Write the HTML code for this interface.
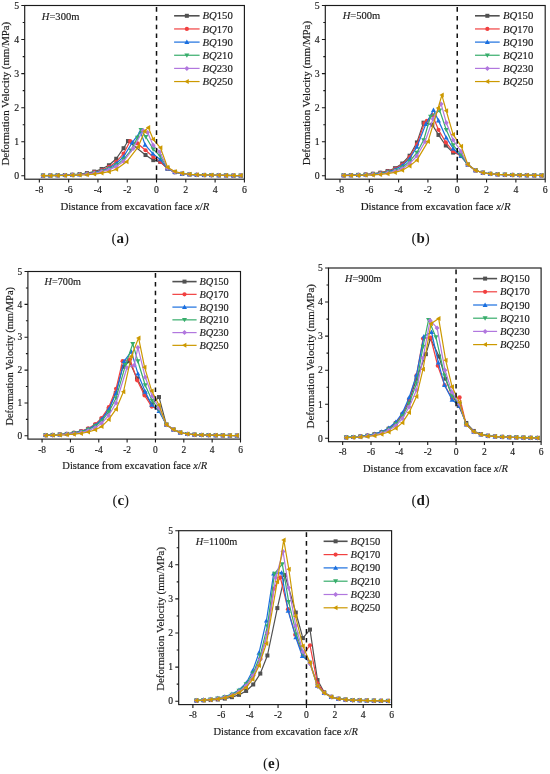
<!DOCTYPE html>
<html><head><meta charset="utf-8"><title>Deformation velocity</title>
<style>
html,body{margin:0;padding:0;background:#fff;}
svg{display:block;font-family:'Liberation Serif','Times New Roman',serif;fill:#1a1a1a;}
svg text{fill:#1a1a1a;stroke:#1a1a1a;stroke-width:0.16px;}
</style></head><body>
<svg width="550" height="774" viewBox="0 0 550 774">
<defs><clipPath id="clipa"><rect x="24.70" y="5.50" width="219.70" height="173.70"/></clipPath><clipPath id="clipb"><rect x="325.30" y="5.50" width="219.90" height="173.70"/></clipPath><clipPath id="clipc"><rect x="27.90" y="271.50" width="212.60" height="167.60"/></clipPath><clipPath id="clipd"><rect x="328.50" y="268.00" width="212.60" height="173.70"/></clipPath><clipPath id="clipe"><rect x="178.70" y="530.70" width="212.90" height="173.90"/></clipPath></defs>
<rect width="550" height="774" fill="#fff"/>
<g clip-path="url(#clipa)">
<path d="M43.01 175.55 L50.33 175.44 L57.66 175.28 L64.98 175.04 L72.30 174.67 L79.62 174.08 L86.95 173.12 L94.27 171.57 L101.60 168.98 L108.92 165.24 L116.24 158.76 L123.57 148.21 L127.96 141.05 L145.53 155.02 L153.30 160.13 L160.18 161.83 L167.50 168.64 L174.83 172.22 L182.15 173.76 L189.47 174.49 L196.80 174.87 L204.12 175.07 L211.45 175.23 L218.77 175.35 L226.09 175.45 L233.42 175.53 L240.74 175.59" fill="none" stroke="#515151" stroke-width="1.2" stroke-linejoin="round"/>
<rect x="41.01" y="173.55" width="4.00" height="4.00" fill="#515151"/>
<rect x="48.33" y="173.44" width="4.00" height="4.00" fill="#515151"/>
<rect x="55.66" y="173.28" width="4.00" height="4.00" fill="#515151"/>
<rect x="62.98" y="173.04" width="4.00" height="4.00" fill="#515151"/>
<rect x="70.30" y="172.67" width="4.00" height="4.00" fill="#515151"/>
<rect x="77.62" y="172.08" width="4.00" height="4.00" fill="#515151"/>
<rect x="84.95" y="171.12" width="4.00" height="4.00" fill="#515151"/>
<rect x="92.27" y="169.57" width="4.00" height="4.00" fill="#515151"/>
<rect x="99.60" y="166.98" width="4.00" height="4.00" fill="#515151"/>
<rect x="106.92" y="163.24" width="4.00" height="4.00" fill="#515151"/>
<rect x="114.24" y="156.76" width="4.00" height="4.00" fill="#515151"/>
<rect x="121.57" y="146.21" width="4.00" height="4.00" fill="#515151"/>
<rect x="125.96" y="139.05" width="4.00" height="4.00" fill="#515151"/>
<rect x="143.53" y="153.02" width="4.00" height="4.00" fill="#515151"/>
<rect x="151.30" y="158.13" width="4.00" height="4.00" fill="#515151"/>
<rect x="158.18" y="159.83" width="4.00" height="4.00" fill="#515151"/>
<rect x="165.50" y="166.64" width="4.00" height="4.00" fill="#515151"/>
<rect x="172.83" y="170.22" width="4.00" height="4.00" fill="#515151"/>
<rect x="180.15" y="171.76" width="4.00" height="4.00" fill="#515151"/>
<rect x="187.47" y="172.49" width="4.00" height="4.00" fill="#515151"/>
<rect x="194.80" y="172.87" width="4.00" height="4.00" fill="#515151"/>
<rect x="202.12" y="173.07" width="4.00" height="4.00" fill="#515151"/>
<rect x="209.45" y="173.23" width="4.00" height="4.00" fill="#515151"/>
<rect x="216.77" y="173.35" width="4.00" height="4.00" fill="#515151"/>
<rect x="224.09" y="173.45" width="4.00" height="4.00" fill="#515151"/>
<rect x="231.42" y="173.53" width="4.00" height="4.00" fill="#515151"/>
<rect x="238.74" y="173.59" width="4.00" height="4.00" fill="#515151"/>
<path d="M43.01 175.58 L50.33 175.49 L57.66 175.36 L64.98 175.15 L72.30 174.84 L79.62 174.33 L86.95 173.53 L94.27 172.20 L101.60 170.00 L108.92 166.94 L116.24 161.83 L123.57 153.66 L130.16 141.05 L137.48 143.44 L145.53 150.25 L153.30 157.06 L160.18 161.83 L167.50 168.64 L174.83 172.22 L182.15 173.76 L189.47 174.49 L196.80 174.87 L204.12 175.07 L211.45 175.23 L218.77 175.35 L226.09 175.45 L233.42 175.53 L240.74 175.59" fill="none" stroke="#F14040" stroke-width="1.2" stroke-linejoin="round"/>
<circle cx="43.01" cy="175.58" r="2.10" fill="#F14040"/>
<circle cx="50.33" cy="175.49" r="2.10" fill="#F14040"/>
<circle cx="57.66" cy="175.36" r="2.10" fill="#F14040"/>
<circle cx="64.98" cy="175.15" r="2.10" fill="#F14040"/>
<circle cx="72.30" cy="174.84" r="2.10" fill="#F14040"/>
<circle cx="79.62" cy="174.33" r="2.10" fill="#F14040"/>
<circle cx="86.95" cy="173.53" r="2.10" fill="#F14040"/>
<circle cx="94.27" cy="172.20" r="2.10" fill="#F14040"/>
<circle cx="101.60" cy="170.00" r="2.10" fill="#F14040"/>
<circle cx="108.92" cy="166.94" r="2.10" fill="#F14040"/>
<circle cx="116.24" cy="161.83" r="2.10" fill="#F14040"/>
<circle cx="123.57" cy="153.66" r="2.10" fill="#F14040"/>
<circle cx="130.16" cy="141.05" r="2.10" fill="#F14040"/>
<circle cx="137.48" cy="143.44" r="2.10" fill="#F14040"/>
<circle cx="145.53" cy="150.25" r="2.10" fill="#F14040"/>
<circle cx="153.30" cy="157.06" r="2.10" fill="#F14040"/>
<circle cx="160.18" cy="161.83" r="2.10" fill="#F14040"/>
<circle cx="167.50" cy="168.64" r="2.10" fill="#F14040"/>
<circle cx="174.83" cy="172.22" r="2.10" fill="#F14040"/>
<circle cx="182.15" cy="173.76" r="2.10" fill="#F14040"/>
<circle cx="189.47" cy="174.49" r="2.10" fill="#F14040"/>
<circle cx="196.80" cy="174.87" r="2.10" fill="#F14040"/>
<circle cx="204.12" cy="175.07" r="2.10" fill="#F14040"/>
<circle cx="211.45" cy="175.23" r="2.10" fill="#F14040"/>
<circle cx="218.77" cy="175.35" r="2.10" fill="#F14040"/>
<circle cx="226.09" cy="175.45" r="2.10" fill="#F14040"/>
<circle cx="233.42" cy="175.53" r="2.10" fill="#F14040"/>
<circle cx="240.74" cy="175.59" r="2.10" fill="#F14040"/>
<path d="M43.01 175.61 L50.33 175.53 L57.66 175.41 L64.98 175.23 L72.30 174.95 L79.62 174.50 L86.95 173.79 L94.27 172.63 L101.60 170.69 L108.92 167.96 L116.24 163.53 L123.57 156.72 L132.35 142.42 L140.41 131.52 L145.10 144.80 L152.86 153.66 L160.18 159.45 L167.50 168.64 L174.83 172.22 L182.15 173.76 L189.47 174.49 L196.80 174.87 L204.12 175.07 L211.45 175.23 L218.77 175.35 L226.09 175.45 L233.42 175.53 L240.74 175.59" fill="none" stroke="#1A6FDF" stroke-width="1.2" stroke-linejoin="round"/>
<path d="M43.01 173.11L45.51 177.48L40.51 177.48Z" fill="#1A6FDF"/>
<path d="M50.33 173.03L52.83 177.40L47.83 177.40Z" fill="#1A6FDF"/>
<path d="M57.66 172.91L60.16 177.28L55.16 177.28Z" fill="#1A6FDF"/>
<path d="M64.98 172.73L67.48 177.10L62.48 177.10Z" fill="#1A6FDF"/>
<path d="M72.30 172.45L74.80 176.82L69.80 176.82Z" fill="#1A6FDF"/>
<path d="M79.62 172.00L82.12 176.38L77.12 176.38Z" fill="#1A6FDF"/>
<path d="M86.95 171.29L89.45 175.67L84.45 175.67Z" fill="#1A6FDF"/>
<path d="M94.27 170.13L96.77 174.50L91.77 174.50Z" fill="#1A6FDF"/>
<path d="M101.60 168.19L104.10 172.56L99.10 172.56Z" fill="#1A6FDF"/>
<path d="M108.92 165.46L111.42 169.84L106.42 169.84Z" fill="#1A6FDF"/>
<path d="M116.24 161.03L118.74 165.41L113.74 165.41Z" fill="#1A6FDF"/>
<path d="M123.57 154.22L126.07 158.60L121.07 158.60Z" fill="#1A6FDF"/>
<path d="M132.35 139.92L134.85 144.29L129.85 144.29Z" fill="#1A6FDF"/>
<path d="M140.41 129.02L142.91 133.39L137.91 133.39Z" fill="#1A6FDF"/>
<path d="M145.10 142.30L147.60 146.68L142.60 146.68Z" fill="#1A6FDF"/>
<path d="M152.86 151.16L155.36 155.53L150.36 155.53Z" fill="#1A6FDF"/>
<path d="M160.18 156.95L162.68 161.32L157.68 161.32Z" fill="#1A6FDF"/>
<path d="M167.50 166.14L170.00 170.52L165.00 170.52Z" fill="#1A6FDF"/>
<path d="M174.83 169.72L177.33 174.09L172.33 174.09Z" fill="#1A6FDF"/>
<path d="M182.15 171.26L184.65 175.63L179.65 175.63Z" fill="#1A6FDF"/>
<path d="M189.47 171.99L191.97 176.36L186.97 176.36Z" fill="#1A6FDF"/>
<path d="M196.80 172.37L199.30 176.74L194.30 176.74Z" fill="#1A6FDF"/>
<path d="M204.12 172.57L206.62 176.95L201.62 176.95Z" fill="#1A6FDF"/>
<path d="M211.45 172.73L213.95 177.11L208.95 177.11Z" fill="#1A6FDF"/>
<path d="M218.77 172.85L221.27 177.23L216.27 177.23Z" fill="#1A6FDF"/>
<path d="M226.09 172.95L228.59 177.33L223.59 177.33Z" fill="#1A6FDF"/>
<path d="M233.42 173.03L235.92 177.40L230.92 177.40Z" fill="#1A6FDF"/>
<path d="M240.74 173.09L243.24 177.46L238.24 177.46Z" fill="#1A6FDF"/>
<path d="M43.01 175.63 L50.33 175.56 L57.66 175.46 L64.98 175.30 L72.30 175.06 L79.62 174.68 L86.95 174.06 L94.27 173.05 L101.60 171.37 L108.92 168.98 L116.24 165.24 L123.57 159.45 L130.89 150.25 L137.48 137.65 L140.99 129.81 L145.83 136.97 L153.15 149.23 L160.18 156.04 L167.50 168.30 L174.83 172.05 L182.15 173.66 L189.47 174.43 L196.80 174.82 L204.12 175.04 L211.45 175.20 L218.77 175.33 L226.09 175.43 L233.42 175.51 L240.74 175.58" fill="none" stroke="#37AD6B" stroke-width="1.2" stroke-linejoin="round"/>
<path d="M43.01 178.13L45.51 173.76L40.51 173.76Z" fill="#37AD6B"/>
<path d="M50.33 178.06L52.83 173.69L47.83 173.69Z" fill="#37AD6B"/>
<path d="M57.66 177.96L60.16 173.59L55.16 173.59Z" fill="#37AD6B"/>
<path d="M64.98 177.80L67.48 173.43L62.48 173.43Z" fill="#37AD6B"/>
<path d="M72.30 177.56L74.80 173.19L69.80 173.19Z" fill="#37AD6B"/>
<path d="M79.62 177.18L82.12 172.80L77.12 172.80Z" fill="#37AD6B"/>
<path d="M86.95 176.56L89.45 172.18L84.45 172.18Z" fill="#37AD6B"/>
<path d="M94.27 175.55L96.77 171.17L91.77 171.17Z" fill="#37AD6B"/>
<path d="M101.60 173.87L104.10 169.49L99.10 169.49Z" fill="#37AD6B"/>
<path d="M108.92 171.48L111.42 167.11L106.42 167.11Z" fill="#37AD6B"/>
<path d="M116.24 167.74L118.74 163.36L113.74 163.36Z" fill="#37AD6B"/>
<path d="M123.57 161.95L126.07 157.57L121.07 157.57Z" fill="#37AD6B"/>
<path d="M130.89 152.75L133.39 148.38L128.39 148.38Z" fill="#37AD6B"/>
<path d="M137.48 140.15L139.98 135.77L134.98 135.77Z" fill="#37AD6B"/>
<path d="M140.99 132.31L143.49 127.94L138.49 127.94Z" fill="#37AD6B"/>
<path d="M145.83 139.47L148.33 135.09L143.33 135.09Z" fill="#37AD6B"/>
<path d="M153.15 151.73L155.65 147.35L150.65 147.35Z" fill="#37AD6B"/>
<path d="M160.18 158.54L162.68 154.16L157.68 154.16Z" fill="#37AD6B"/>
<path d="M167.50 170.80L170.00 166.43L165.00 166.43Z" fill="#37AD6B"/>
<path d="M174.83 174.55L177.33 170.17L172.33 170.17Z" fill="#37AD6B"/>
<path d="M182.15 176.16L184.65 171.78L179.65 171.78Z" fill="#37AD6B"/>
<path d="M189.47 176.93L191.97 172.55L186.97 172.55Z" fill="#37AD6B"/>
<path d="M196.80 177.32L199.30 172.95L194.30 172.95Z" fill="#37AD6B"/>
<path d="M204.12 177.54L206.62 173.16L201.62 173.16Z" fill="#37AD6B"/>
<path d="M211.45 177.70L213.95 173.33L208.95 173.33Z" fill="#37AD6B"/>
<path d="M218.77 177.83L221.27 173.46L216.27 173.46Z" fill="#37AD6B"/>
<path d="M226.09 177.93L228.59 173.56L223.59 173.56Z" fill="#37AD6B"/>
<path d="M233.42 178.01L235.92 173.64L230.92 173.64Z" fill="#37AD6B"/>
<path d="M240.74 178.08L243.24 173.70L238.24 173.70Z" fill="#37AD6B"/>
<path d="M43.01 175.65 L50.33 175.58 L57.66 175.49 L64.98 175.34 L72.30 175.12 L79.62 174.76 L86.95 174.19 L94.27 173.26 L101.60 171.71 L108.92 169.66 L116.24 166.60 L123.57 161.49 L133.09 148.55 L143.05 130.50 L147.59 132.54 L153.15 145.14 L159.74 151.95 L167.50 167.96 L174.83 171.88 L182.15 173.56 L189.47 174.37 L196.80 174.78 L204.12 175.00 L211.45 175.18 L218.77 175.31 L226.09 175.42 L233.42 175.50 L240.74 175.57" fill="none" stroke="#B177DE" stroke-width="1.2" stroke-linejoin="round"/>
<path d="M43.01 173.15L45.51 175.65L43.01 178.15L40.51 175.65Z" fill="#B177DE"/>
<path d="M50.33 173.08L52.83 175.58L50.33 178.08L47.83 175.58Z" fill="#B177DE"/>
<path d="M57.66 172.99L60.16 175.49L57.66 177.99L55.16 175.49Z" fill="#B177DE"/>
<path d="M64.98 172.84L67.48 175.34L64.98 177.84L62.48 175.34Z" fill="#B177DE"/>
<path d="M72.30 172.62L74.80 175.12L72.30 177.62L69.80 175.12Z" fill="#B177DE"/>
<path d="M79.62 172.26L82.12 174.76L79.62 177.26L77.12 174.76Z" fill="#B177DE"/>
<path d="M86.95 171.69L89.45 174.19L86.95 176.69L84.45 174.19Z" fill="#B177DE"/>
<path d="M94.27 170.76L96.77 173.26L94.27 175.76L91.77 173.26Z" fill="#B177DE"/>
<path d="M101.60 169.21L104.10 171.71L101.60 174.21L99.10 171.71Z" fill="#B177DE"/>
<path d="M108.92 167.16L111.42 169.66L108.92 172.16L106.42 169.66Z" fill="#B177DE"/>
<path d="M116.24 164.10L118.74 166.60L116.24 169.10L113.74 166.60Z" fill="#B177DE"/>
<path d="M123.57 158.99L126.07 161.49L123.57 163.99L121.07 161.49Z" fill="#B177DE"/>
<path d="M133.09 146.05L135.59 148.55L133.09 151.05L130.59 148.55Z" fill="#B177DE"/>
<path d="M143.05 128.00L145.55 130.50L143.05 133.00L140.55 130.50Z" fill="#B177DE"/>
<path d="M147.59 130.04L150.09 132.54L147.59 135.04L145.09 132.54Z" fill="#B177DE"/>
<path d="M153.15 142.64L155.65 145.14L153.15 147.64L150.65 145.14Z" fill="#B177DE"/>
<path d="M159.74 149.45L162.24 151.95L159.74 154.45L157.24 151.95Z" fill="#B177DE"/>
<path d="M167.50 165.46L170.00 167.96L167.50 170.46L165.00 167.96Z" fill="#B177DE"/>
<path d="M174.83 169.38L177.33 171.88L174.83 174.38L172.33 171.88Z" fill="#B177DE"/>
<path d="M182.15 171.06L184.65 173.56L182.15 176.06L179.65 173.56Z" fill="#B177DE"/>
<path d="M189.47 171.87L191.97 174.37L189.47 176.87L186.97 174.37Z" fill="#B177DE"/>
<path d="M196.80 172.28L199.30 174.78L196.80 177.28L194.30 174.78Z" fill="#B177DE"/>
<path d="M204.12 172.50L206.62 175.00L204.12 177.50L201.62 175.00Z" fill="#B177DE"/>
<path d="M211.45 172.68L213.95 175.18L211.45 177.68L208.95 175.18Z" fill="#B177DE"/>
<path d="M218.77 172.81L221.27 175.31L218.77 177.81L216.27 175.31Z" fill="#B177DE"/>
<path d="M226.09 172.92L228.59 175.42L226.09 177.92L223.59 175.42Z" fill="#B177DE"/>
<path d="M233.42 173.00L235.92 175.50L233.42 178.00L230.92 175.50Z" fill="#B177DE"/>
<path d="M240.74 173.07L243.24 175.57L240.74 178.07L238.24 175.57Z" fill="#B177DE"/>
<path d="M43.01 175.69 L50.33 175.65 L57.66 175.59 L64.98 175.49 L72.30 175.34 L79.62 175.11 L86.95 174.73 L94.27 174.10 L101.60 173.07 L108.92 171.71 L116.24 169.32 L126.64 161.83 L138.21 146.84 L144.66 131.18 L148.32 127.43 L153.15 139.35 L160.47 147.87 L167.50 167.28 L174.83 171.54 L182.15 173.37 L189.47 174.24 L196.80 174.69 L204.12 174.93 L211.45 175.12 L218.77 175.27 L226.09 175.39 L233.42 175.48 L240.74 175.55" fill="none" stroke="#CC9900" stroke-width="1.2" stroke-linejoin="round"/>
<path d="M40.51 175.69L44.88 173.19L44.88 178.19Z" fill="#CC9900"/>
<path d="M47.83 175.65L52.21 173.15L52.21 178.15Z" fill="#CC9900"/>
<path d="M55.16 175.59L59.53 173.09L59.53 178.09Z" fill="#CC9900"/>
<path d="M62.48 175.49L66.85 172.99L66.85 177.99Z" fill="#CC9900"/>
<path d="M69.80 175.34L74.18 172.84L74.18 177.84Z" fill="#CC9900"/>
<path d="M77.12 175.11L81.50 172.61L81.50 177.61Z" fill="#CC9900"/>
<path d="M84.45 174.73L88.82 172.23L88.82 177.23Z" fill="#CC9900"/>
<path d="M91.77 174.10L96.15 171.60L96.15 176.60Z" fill="#CC9900"/>
<path d="M99.10 173.07L103.47 170.57L103.47 175.57Z" fill="#CC9900"/>
<path d="M106.42 171.71L110.79 169.21L110.79 174.21Z" fill="#CC9900"/>
<path d="M113.74 169.32L118.12 166.82L118.12 171.82Z" fill="#CC9900"/>
<path d="M124.14 161.83L128.52 159.33L128.52 164.33Z" fill="#CC9900"/>
<path d="M135.71 146.84L140.09 144.34L140.09 149.34Z" fill="#CC9900"/>
<path d="M142.16 131.18L146.53 128.68L146.53 133.68Z" fill="#CC9900"/>
<path d="M145.82 127.43L150.19 124.93L150.19 129.93Z" fill="#CC9900"/>
<path d="M150.65 139.35L155.03 136.85L155.03 141.85Z" fill="#CC9900"/>
<path d="M157.97 147.87L162.35 145.37L162.35 150.37Z" fill="#CC9900"/>
<path d="M165.00 167.28L169.38 164.78L169.38 169.78Z" fill="#CC9900"/>
<path d="M172.33 171.54L176.70 169.04L176.70 174.04Z" fill="#CC9900"/>
<path d="M179.65 173.37L184.03 170.87L184.03 175.87Z" fill="#CC9900"/>
<path d="M186.97 174.24L191.35 171.74L191.35 176.74Z" fill="#CC9900"/>
<path d="M194.30 174.69L198.67 172.19L198.67 177.19Z" fill="#CC9900"/>
<path d="M201.62 174.93L206.00 172.43L206.00 177.43Z" fill="#CC9900"/>
<path d="M208.95 175.12L213.32 172.62L213.32 177.62Z" fill="#CC9900"/>
<path d="M216.27 175.27L220.64 172.77L220.64 177.77Z" fill="#CC9900"/>
<path d="M223.59 175.39L227.97 172.89L227.97 177.89Z" fill="#CC9900"/>
<path d="M230.92 175.48L235.29 172.98L235.29 177.98Z" fill="#CC9900"/>
<path d="M238.24 175.55L242.61 173.05L242.61 178.05Z" fill="#CC9900"/>
</g>
<line x1="156.52" y1="7.10" x2="156.52" y2="179.20" stroke="#111" stroke-width="1.5" stroke-dasharray="4.6 4.2"/>
<rect x="24.70" y="5.50" width="219.70" height="173.70" fill="none" stroke="#1a1a1a" stroke-width="1.15"/>
<text x="19.10" y="179.12" text-anchor="end" font-size="9.79">0</text>
<text x="19.10" y="145.06" text-anchor="end" font-size="9.79">1</text>
<text x="19.10" y="111.01" text-anchor="end" font-size="9.79">2</text>
<text x="19.10" y="76.95" text-anchor="end" font-size="9.79">3</text>
<text x="19.10" y="42.89" text-anchor="end" font-size="9.79">4</text>
<text x="19.10" y="8.83" text-anchor="end" font-size="9.79">5</text>
<text x="39.35" y="193.20" text-anchor="middle" font-size="9.79">-8</text>
<text x="68.64" y="193.20" text-anchor="middle" font-size="9.79">-6</text>
<text x="97.93" y="193.20" text-anchor="middle" font-size="9.79">-4</text>
<text x="127.23" y="193.20" text-anchor="middle" font-size="9.79">-2</text>
<text x="156.52" y="193.20" text-anchor="middle" font-size="9.79">0</text>
<text x="185.81" y="193.20" text-anchor="middle" font-size="9.79">2</text>
<text x="215.11" y="193.20" text-anchor="middle" font-size="9.79">4</text>
<text x="244.40" y="193.20" text-anchor="middle" font-size="9.79">6</text>
<path d="M24.70 175.79h-3.4 M24.70 141.74h-3.4 M24.70 107.68h-3.4 M24.70 73.62h-3.4 M24.70 39.56h-3.4 M24.70 5.50h-3.4 M24.70 158.76h-2 M24.70 124.71h-2 M24.70 90.65h-2 M24.70 56.59h-2 M24.70 22.53h-2 M39.35 179.20v3.4 M68.64 179.20v3.4 M97.93 179.20v3.4 M127.23 179.20v3.4 M156.52 179.20v3.4 M185.81 179.20v3.4 M215.11 179.20v3.4 M244.40 179.20v3.4" stroke="#1a1a1a" stroke-width="1.1" fill="none"/>
<text x="60.50" y="209.90" font-size="10.70" textLength="149.0" lengthAdjust="spacingAndGlyphs">Distance from excavation face <tspan font-style="italic">x</tspan>/<tspan font-style="italic">R</tspan></text>
<text transform="translate(8.80,165.60) rotate(-90)" font-size="10.70" textLength="143.8" lengthAdjust="spacingAndGlyphs">Deformation Velocity (mm/MPa)</text>
<text x="41.80" y="19.70" font-size="10.70" textLength="37.6" lengthAdjust="spacingAndGlyphs"><tspan font-style="italic">H</tspan>=300m</text>
<line x1="174.10" y1="15.80" x2="199.60" y2="15.80" stroke="#515151" stroke-width="1.6"/>
<rect x="184.85" y="13.80" width="4.00" height="4.00" fill="#515151"/>
<text x="202.50" y="19.44" font-size="10.70"><tspan font-style="italic">BQ</tspan>150</text>
<line x1="174.10" y1="28.95" x2="199.60" y2="28.95" stroke="#F14040" stroke-width="1.2"/>
<circle cx="186.85" cy="28.95" r="2.10" fill="#F14040"/>
<text x="202.50" y="32.59" font-size="10.70"><tspan font-style="italic">BQ</tspan>170</text>
<line x1="174.10" y1="42.10" x2="199.60" y2="42.10" stroke="#1A6FDF" stroke-width="1.2"/>
<path d="M186.85 39.60L189.35 43.98L184.35 43.98Z" fill="#1A6FDF"/>
<text x="202.50" y="45.74" font-size="10.70"><tspan font-style="italic">BQ</tspan>190</text>
<line x1="174.10" y1="55.25" x2="199.60" y2="55.25" stroke="#37AD6B" stroke-width="1.2"/>
<path d="M186.85 57.75L189.35 53.38L184.35 53.38Z" fill="#37AD6B"/>
<text x="202.50" y="58.89" font-size="10.70"><tspan font-style="italic">BQ</tspan>210</text>
<line x1="174.10" y1="68.40" x2="199.60" y2="68.40" stroke="#B177DE" stroke-width="1.2"/>
<path d="M186.85 65.90L189.35 68.40L186.85 70.90L184.35 68.40Z" fill="#B177DE"/>
<text x="202.50" y="72.04" font-size="10.70"><tspan font-style="italic">BQ</tspan>230</text>
<line x1="174.10" y1="81.55" x2="199.60" y2="81.55" stroke="#CC9900" stroke-width="1.2"/>
<path d="M184.35 81.55L188.72 79.05L188.72 84.05Z" fill="#CC9900"/>
<text x="202.50" y="85.19" font-size="10.70"><tspan font-style="italic">BQ</tspan>250</text>
<text x="111.50" y="242.50" font-size="15.00" style="stroke:none">(<tspan font-weight="bold">a</tspan>)</text>
<g clip-path="url(#clipb)">
<path d="M343.62 175.35 L350.96 175.16 L358.29 174.87 L365.62 174.44 L372.94 173.76 L380.28 172.70 L387.61 170.99 L394.94 168.19 L402.26 163.53 L409.60 155.70 L416.93 142.42 L423.52 122.66 L432.32 124.71 L438.48 134.92 L445.81 145.48 L453.14 152.63 L460.91 154.68 L467.80 164.55 L475.57 170.40 L482.90 172.72 L490.23 173.83 L497.56 174.40 L504.89 174.71 L512.22 174.94 L519.55 175.13 L526.88 175.28 L534.21 175.39 L541.54 175.48" fill="none" stroke="#515151" stroke-width="1.2" stroke-linejoin="round"/>
<rect x="341.62" y="173.35" width="4.00" height="4.00" fill="#515151"/>
<rect x="348.96" y="173.16" width="4.00" height="4.00" fill="#515151"/>
<rect x="356.29" y="172.87" width="4.00" height="4.00" fill="#515151"/>
<rect x="363.62" y="172.44" width="4.00" height="4.00" fill="#515151"/>
<rect x="370.94" y="171.76" width="4.00" height="4.00" fill="#515151"/>
<rect x="378.28" y="170.70" width="4.00" height="4.00" fill="#515151"/>
<rect x="385.61" y="168.99" width="4.00" height="4.00" fill="#515151"/>
<rect x="392.94" y="166.19" width="4.00" height="4.00" fill="#515151"/>
<rect x="400.26" y="161.53" width="4.00" height="4.00" fill="#515151"/>
<rect x="407.60" y="153.70" width="4.00" height="4.00" fill="#515151"/>
<rect x="414.93" y="140.42" width="4.00" height="4.00" fill="#515151"/>
<rect x="421.52" y="120.66" width="4.00" height="4.00" fill="#515151"/>
<rect x="430.32" y="122.71" width="4.00" height="4.00" fill="#515151"/>
<rect x="436.48" y="132.92" width="4.00" height="4.00" fill="#515151"/>
<rect x="443.81" y="143.48" width="4.00" height="4.00" fill="#515151"/>
<rect x="451.14" y="150.63" width="4.00" height="4.00" fill="#515151"/>
<rect x="458.91" y="152.68" width="4.00" height="4.00" fill="#515151"/>
<rect x="465.80" y="162.55" width="4.00" height="4.00" fill="#515151"/>
<rect x="473.57" y="168.40" width="4.00" height="4.00" fill="#515151"/>
<rect x="480.90" y="170.72" width="4.00" height="4.00" fill="#515151"/>
<rect x="488.23" y="171.83" width="4.00" height="4.00" fill="#515151"/>
<rect x="495.56" y="172.40" width="4.00" height="4.00" fill="#515151"/>
<rect x="502.89" y="172.71" width="4.00" height="4.00" fill="#515151"/>
<rect x="510.22" y="172.94" width="4.00" height="4.00" fill="#515151"/>
<rect x="517.55" y="173.13" width="4.00" height="4.00" fill="#515151"/>
<rect x="524.88" y="173.28" width="4.00" height="4.00" fill="#515151"/>
<rect x="532.21" y="173.39" width="4.00" height="4.00" fill="#515151"/>
<rect x="539.54" y="173.48" width="4.00" height="4.00" fill="#515151"/>
<path d="M343.62 175.38 L350.96 175.21 L358.29 174.95 L365.62 174.55 L372.94 173.93 L380.28 172.96 L387.61 171.39 L394.94 168.83 L402.26 164.55 L409.60 157.06 L416.93 144.46 L424.40 123.00 L426.89 120.96 L432.46 115.17 L438.48 129.81 L445.81 142.42 L453.14 151.27 L460.91 156.04 L467.80 164.55 L475.57 170.40 L482.90 172.72 L490.23 173.83 L497.56 174.40 L504.89 174.71 L512.22 174.94 L519.55 175.13 L526.88 175.28 L534.21 175.39 L541.54 175.48" fill="none" stroke="#F14040" stroke-width="1.2" stroke-linejoin="round"/>
<circle cx="343.62" cy="175.38" r="2.10" fill="#F14040"/>
<circle cx="350.96" cy="175.21" r="2.10" fill="#F14040"/>
<circle cx="358.29" cy="174.95" r="2.10" fill="#F14040"/>
<circle cx="365.62" cy="174.55" r="2.10" fill="#F14040"/>
<circle cx="372.94" cy="173.93" r="2.10" fill="#F14040"/>
<circle cx="380.28" cy="172.96" r="2.10" fill="#F14040"/>
<circle cx="387.61" cy="171.39" r="2.10" fill="#F14040"/>
<circle cx="394.94" cy="168.83" r="2.10" fill="#F14040"/>
<circle cx="402.26" cy="164.55" r="2.10" fill="#F14040"/>
<circle cx="409.60" cy="157.06" r="2.10" fill="#F14040"/>
<circle cx="416.93" cy="144.46" r="2.10" fill="#F14040"/>
<circle cx="424.40" cy="123.00" r="2.10" fill="#F14040"/>
<circle cx="426.89" cy="120.96" r="2.10" fill="#F14040"/>
<circle cx="432.46" cy="115.17" r="2.10" fill="#F14040"/>
<circle cx="438.48" cy="129.81" r="2.10" fill="#F14040"/>
<circle cx="445.81" cy="142.42" r="2.10" fill="#F14040"/>
<circle cx="453.14" cy="151.27" r="2.10" fill="#F14040"/>
<circle cx="460.91" cy="156.04" r="2.10" fill="#F14040"/>
<circle cx="467.80" cy="164.55" r="2.10" fill="#F14040"/>
<circle cx="475.57" cy="170.40" r="2.10" fill="#F14040"/>
<circle cx="482.90" cy="172.72" r="2.10" fill="#F14040"/>
<circle cx="490.23" cy="173.83" r="2.10" fill="#F14040"/>
<circle cx="497.56" cy="174.40" r="2.10" fill="#F14040"/>
<circle cx="504.89" cy="174.71" r="2.10" fill="#F14040"/>
<circle cx="512.22" cy="174.94" r="2.10" fill="#F14040"/>
<circle cx="519.55" cy="175.13" r="2.10" fill="#F14040"/>
<circle cx="526.88" cy="175.28" r="2.10" fill="#F14040"/>
<circle cx="534.21" cy="175.39" r="2.10" fill="#F14040"/>
<circle cx="541.54" cy="175.48" r="2.10" fill="#F14040"/>
<path d="M343.62 175.42 L350.96 175.26 L358.29 175.03 L365.62 174.66 L372.94 174.10 L380.28 173.22 L387.61 171.79 L394.94 169.46 L402.26 165.58 L409.60 158.76 L416.93 146.84 L425.87 124.02 L433.49 110.06 L438.48 120.62 L446.25 137.65 L453.14 148.55 L460.91 156.04 L467.80 164.55 L475.57 170.40 L482.90 172.72 L490.23 173.83 L497.56 174.40 L504.89 174.71 L512.22 174.94 L519.55 175.13 L526.88 175.28 L534.21 175.39 L541.54 175.48" fill="none" stroke="#1A6FDF" stroke-width="1.2" stroke-linejoin="round"/>
<path d="M343.62 172.92L346.12 177.30L341.12 177.30Z" fill="#1A6FDF"/>
<path d="M350.96 172.76L353.46 177.14L348.46 177.14Z" fill="#1A6FDF"/>
<path d="M358.29 172.53L360.79 176.90L355.79 176.90Z" fill="#1A6FDF"/>
<path d="M365.62 172.16L368.12 176.54L363.12 176.54Z" fill="#1A6FDF"/>
<path d="M372.94 171.60L375.44 175.98L370.44 175.98Z" fill="#1A6FDF"/>
<path d="M380.28 170.72L382.78 175.09L377.78 175.09Z" fill="#1A6FDF"/>
<path d="M387.61 169.29L390.11 173.67L385.11 173.67Z" fill="#1A6FDF"/>
<path d="M394.94 166.96L397.44 171.33L392.44 171.33Z" fill="#1A6FDF"/>
<path d="M402.26 163.08L404.76 167.45L399.76 167.45Z" fill="#1A6FDF"/>
<path d="M409.60 156.26L412.10 160.64L407.10 160.64Z" fill="#1A6FDF"/>
<path d="M416.93 144.34L419.43 148.72L414.43 148.72Z" fill="#1A6FDF"/>
<path d="M425.87 121.52L428.37 125.90L423.37 125.90Z" fill="#1A6FDF"/>
<path d="M433.49 107.56L435.99 111.94L430.99 111.94Z" fill="#1A6FDF"/>
<path d="M438.48 118.12L440.98 122.49L435.98 122.49Z" fill="#1A6FDF"/>
<path d="M446.25 135.15L448.75 139.52L443.75 139.52Z" fill="#1A6FDF"/>
<path d="M453.14 146.05L455.64 150.42L450.64 150.42Z" fill="#1A6FDF"/>
<path d="M460.91 153.54L463.41 157.91L458.41 157.91Z" fill="#1A6FDF"/>
<path d="M467.80 162.05L470.30 166.43L465.30 166.43Z" fill="#1A6FDF"/>
<path d="M475.57 167.90L478.07 172.28L473.07 172.28Z" fill="#1A6FDF"/>
<path d="M482.90 170.22L485.40 174.60L480.40 174.60Z" fill="#1A6FDF"/>
<path d="M490.23 171.33L492.73 175.70L487.73 175.70Z" fill="#1A6FDF"/>
<path d="M497.56 171.90L500.06 176.27L495.06 176.27Z" fill="#1A6FDF"/>
<path d="M504.89 172.21L507.39 176.58L502.39 176.58Z" fill="#1A6FDF"/>
<path d="M512.22 172.44L514.72 176.82L509.72 176.82Z" fill="#1A6FDF"/>
<path d="M519.55 172.63L522.05 177.01L517.05 177.01Z" fill="#1A6FDF"/>
<path d="M526.88 172.78L529.38 177.15L524.38 177.15Z" fill="#1A6FDF"/>
<path d="M534.21 172.89L536.71 177.27L531.71 177.27Z" fill="#1A6FDF"/>
<path d="M541.54 172.98L544.04 177.35L539.04 177.35Z" fill="#1A6FDF"/>
<path d="M343.62 175.48 L350.96 175.35 L358.29 175.15 L365.62 174.85 L372.94 174.38 L380.28 173.65 L387.61 172.46 L394.94 170.51 L402.26 167.28 L409.60 161.49 L416.93 152.63 L423.67 140.03 L430.56 116.53 L439.65 110.40 L446.25 129.81 L453.14 145.14 L460.91 154.68 L467.80 164.55 L475.57 170.40 L482.90 172.72 L490.23 173.83 L497.56 174.40 L504.89 174.71 L512.22 174.94 L519.55 175.13 L526.88 175.28 L534.21 175.39 L541.54 175.48" fill="none" stroke="#37AD6B" stroke-width="1.2" stroke-linejoin="round"/>
<path d="M343.62 177.98L346.12 173.61L341.12 173.61Z" fill="#37AD6B"/>
<path d="M350.96 177.85L353.46 173.48L348.46 173.48Z" fill="#37AD6B"/>
<path d="M358.29 177.65L360.79 173.28L355.79 173.28Z" fill="#37AD6B"/>
<path d="M365.62 177.35L368.12 172.98L363.12 172.98Z" fill="#37AD6B"/>
<path d="M372.94 176.88L375.44 172.51L370.44 172.51Z" fill="#37AD6B"/>
<path d="M380.28 176.15L382.78 171.77L377.78 171.77Z" fill="#37AD6B"/>
<path d="M387.61 174.96L390.11 170.58L385.11 170.58Z" fill="#37AD6B"/>
<path d="M394.94 173.01L397.44 168.64L392.44 168.64Z" fill="#37AD6B"/>
<path d="M402.26 169.78L404.76 165.40L399.76 165.40Z" fill="#37AD6B"/>
<path d="M409.60 163.99L412.10 159.61L407.10 159.61Z" fill="#37AD6B"/>
<path d="M416.93 155.13L419.43 150.76L414.43 150.76Z" fill="#37AD6B"/>
<path d="M423.67 142.53L426.17 138.16L421.17 138.16Z" fill="#37AD6B"/>
<path d="M430.56 119.03L433.06 114.66L428.06 114.66Z" fill="#37AD6B"/>
<path d="M439.65 112.90L442.15 108.53L437.15 108.53Z" fill="#37AD6B"/>
<path d="M446.25 132.31L448.75 127.94L443.75 127.94Z" fill="#37AD6B"/>
<path d="M453.14 147.64L455.64 143.27L450.64 143.27Z" fill="#37AD6B"/>
<path d="M460.91 157.18L463.41 152.80L458.41 152.80Z" fill="#37AD6B"/>
<path d="M467.80 167.05L470.30 162.68L465.30 162.68Z" fill="#37AD6B"/>
<path d="M475.57 172.90L478.07 168.53L473.07 168.53Z" fill="#37AD6B"/>
<path d="M482.90 175.22L485.40 170.85L480.40 170.85Z" fill="#37AD6B"/>
<path d="M490.23 176.33L492.73 171.95L487.73 171.95Z" fill="#37AD6B"/>
<path d="M497.56 176.90L500.06 172.52L495.06 172.52Z" fill="#37AD6B"/>
<path d="M504.89 177.21L507.39 172.83L502.39 172.83Z" fill="#37AD6B"/>
<path d="M512.22 177.44L514.72 173.07L509.72 173.07Z" fill="#37AD6B"/>
<path d="M519.55 177.63L522.05 173.26L517.05 173.26Z" fill="#37AD6B"/>
<path d="M526.88 177.78L529.38 173.40L524.38 173.40Z" fill="#37AD6B"/>
<path d="M534.21 177.89L536.71 173.52L531.71 173.52Z" fill="#37AD6B"/>
<path d="M541.54 177.98L544.04 173.60L539.04 173.60Z" fill="#37AD6B"/>
<path d="M343.62 175.53 L350.96 175.42 L358.29 175.26 L365.62 175.00 L372.94 174.61 L380.28 173.99 L387.61 172.99 L394.94 171.36 L402.26 168.64 L409.60 163.53 L416.93 156.04 L424.99 141.74 L433.05 118.92 L441.11 103.93 L446.25 122.66 L453.14 140.03 L460.91 151.27 L467.80 164.55 L475.57 170.40 L482.90 172.72 L490.23 173.83 L497.56 174.40 L504.89 174.71 L512.22 174.94 L519.55 175.13 L526.88 175.28 L534.21 175.39 L541.54 175.48" fill="none" stroke="#B177DE" stroke-width="1.2" stroke-linejoin="round"/>
<path d="M343.62 173.03L346.12 175.53L343.62 178.03L341.12 175.53Z" fill="#B177DE"/>
<path d="M350.96 172.92L353.46 175.42L350.96 177.92L348.46 175.42Z" fill="#B177DE"/>
<path d="M358.29 172.76L360.79 175.26L358.29 177.76L355.79 175.26Z" fill="#B177DE"/>
<path d="M365.62 172.50L368.12 175.00L365.62 177.50L363.12 175.00Z" fill="#B177DE"/>
<path d="M372.94 172.11L375.44 174.61L372.94 177.11L370.44 174.61Z" fill="#B177DE"/>
<path d="M380.28 171.49L382.78 173.99L380.28 176.49L377.78 173.99Z" fill="#B177DE"/>
<path d="M387.61 170.49L390.11 172.99L387.61 175.49L385.11 172.99Z" fill="#B177DE"/>
<path d="M394.94 168.86L397.44 171.36L394.94 173.86L392.44 171.36Z" fill="#B177DE"/>
<path d="M402.26 166.14L404.76 168.64L402.26 171.14L399.76 168.64Z" fill="#B177DE"/>
<path d="M409.60 161.03L412.10 163.53L409.60 166.03L407.10 163.53Z" fill="#B177DE"/>
<path d="M416.93 153.54L419.43 156.04L416.93 158.54L414.43 156.04Z" fill="#B177DE"/>
<path d="M424.99 139.24L427.49 141.74L424.99 144.24L422.49 141.74Z" fill="#B177DE"/>
<path d="M433.05 116.42L435.55 118.92L433.05 121.42L430.55 118.92Z" fill="#B177DE"/>
<path d="M441.11 101.43L443.61 103.93L441.11 106.43L438.61 103.93Z" fill="#B177DE"/>
<path d="M446.25 120.16L448.75 122.66L446.25 125.16L443.75 122.66Z" fill="#B177DE"/>
<path d="M453.14 137.53L455.64 140.03L453.14 142.53L450.64 140.03Z" fill="#B177DE"/>
<path d="M460.91 148.77L463.41 151.27L460.91 153.77L458.41 151.27Z" fill="#B177DE"/>
<path d="M467.80 162.05L470.30 164.55L467.80 167.05L465.30 164.55Z" fill="#B177DE"/>
<path d="M475.57 167.90L478.07 170.40L475.57 172.90L473.07 170.40Z" fill="#B177DE"/>
<path d="M482.90 170.22L485.40 172.72L482.90 175.22L480.40 172.72Z" fill="#B177DE"/>
<path d="M490.23 171.33L492.73 173.83L490.23 176.33L487.73 173.83Z" fill="#B177DE"/>
<path d="M497.56 171.90L500.06 174.40L497.56 176.90L495.06 174.40Z" fill="#B177DE"/>
<path d="M504.89 172.21L507.39 174.71L504.89 177.21L502.39 174.71Z" fill="#B177DE"/>
<path d="M512.22 172.44L514.72 174.94L512.22 177.44L509.72 174.94Z" fill="#B177DE"/>
<path d="M519.55 172.63L522.05 175.13L519.55 177.63L517.05 175.13Z" fill="#B177DE"/>
<path d="M526.88 172.78L529.38 175.28L526.88 177.78L524.38 175.28Z" fill="#B177DE"/>
<path d="M534.21 172.89L536.71 175.39L534.21 177.89L531.71 175.39Z" fill="#B177DE"/>
<path d="M541.54 172.98L544.04 175.48L541.54 177.98L539.04 175.48Z" fill="#B177DE"/>
<path d="M343.62 175.60 L350.96 175.51 L358.29 175.38 L365.62 175.19 L372.94 174.89 L380.28 174.42 L387.61 173.66 L394.94 172.42 L402.26 170.34 L409.60 165.92 L416.93 160.13 L428.07 141.39 L438.18 108.02 L441.85 95.07 L446.25 110.74 L453.14 134.58 L461.20 146.16 L467.80 164.55 L475.57 170.40 L482.90 172.72 L490.23 173.83 L497.56 174.40 L504.89 174.71 L512.22 174.94 L519.55 175.13 L526.88 175.28 L534.21 175.39 L541.54 175.48" fill="none" stroke="#CC9900" stroke-width="1.2" stroke-linejoin="round"/>
<path d="M341.12 175.60L345.50 173.10L345.50 178.10Z" fill="#CC9900"/>
<path d="M348.46 175.51L352.83 173.01L352.83 178.01Z" fill="#CC9900"/>
<path d="M355.79 175.38L360.16 172.88L360.16 177.88Z" fill="#CC9900"/>
<path d="M363.12 175.19L367.49 172.69L367.49 177.69Z" fill="#CC9900"/>
<path d="M370.44 174.89L374.82 172.39L374.82 177.39Z" fill="#CC9900"/>
<path d="M377.78 174.42L382.15 171.92L382.15 176.92Z" fill="#CC9900"/>
<path d="M385.11 173.66L389.48 171.16L389.48 176.16Z" fill="#CC9900"/>
<path d="M392.44 172.42L396.81 169.92L396.81 174.92Z" fill="#CC9900"/>
<path d="M399.76 170.34L404.14 167.84L404.14 172.84Z" fill="#CC9900"/>
<path d="M407.10 165.92L411.47 163.42L411.47 168.42Z" fill="#CC9900"/>
<path d="M414.43 160.13L418.80 157.63L418.80 162.63Z" fill="#CC9900"/>
<path d="M425.57 141.39L429.94 138.89L429.94 143.89Z" fill="#CC9900"/>
<path d="M435.68 108.02L440.06 105.52L440.06 110.52Z" fill="#CC9900"/>
<path d="M439.35 95.07L443.72 92.57L443.72 97.57Z" fill="#CC9900"/>
<path d="M443.75 110.74L448.12 108.24L448.12 113.24Z" fill="#CC9900"/>
<path d="M450.64 134.58L455.01 132.08L455.01 137.08Z" fill="#CC9900"/>
<path d="M458.70 146.16L463.07 143.66L463.07 148.66Z" fill="#CC9900"/>
<path d="M465.30 164.55L469.67 162.05L469.67 167.05Z" fill="#CC9900"/>
<path d="M473.07 170.40L477.44 167.90L477.44 172.90Z" fill="#CC9900"/>
<path d="M480.40 172.72L484.77 170.22L484.77 175.22Z" fill="#CC9900"/>
<path d="M487.73 173.83L492.10 171.33L492.10 176.33Z" fill="#CC9900"/>
<path d="M495.06 174.40L499.43 171.90L499.43 176.90Z" fill="#CC9900"/>
<path d="M502.39 174.71L506.76 172.21L506.76 177.21Z" fill="#CC9900"/>
<path d="M509.72 174.94L514.09 172.44L514.09 177.44Z" fill="#CC9900"/>
<path d="M517.05 175.13L521.42 172.63L521.42 177.63Z" fill="#CC9900"/>
<path d="M524.38 175.28L528.75 172.78L528.75 177.78Z" fill="#CC9900"/>
<path d="M531.71 175.39L536.08 172.89L536.08 177.89Z" fill="#CC9900"/>
<path d="M539.04 175.48L543.41 172.98L543.41 177.98Z" fill="#CC9900"/>
</g>
<line x1="457.24" y1="7.10" x2="457.24" y2="179.20" stroke="#111" stroke-width="1.5" stroke-dasharray="4.6 4.2"/>
<rect x="325.30" y="5.50" width="219.90" height="173.70" fill="none" stroke="#1a1a1a" stroke-width="1.15"/>
<text x="319.70" y="179.12" text-anchor="end" font-size="9.79">0</text>
<text x="319.70" y="145.06" text-anchor="end" font-size="9.79">1</text>
<text x="319.70" y="111.01" text-anchor="end" font-size="9.79">2</text>
<text x="319.70" y="76.95" text-anchor="end" font-size="9.79">3</text>
<text x="319.70" y="42.89" text-anchor="end" font-size="9.79">4</text>
<text x="319.70" y="8.83" text-anchor="end" font-size="9.79">5</text>
<text x="339.96" y="193.20" text-anchor="middle" font-size="9.79">-8</text>
<text x="369.28" y="193.20" text-anchor="middle" font-size="9.79">-6</text>
<text x="398.60" y="193.20" text-anchor="middle" font-size="9.79">-4</text>
<text x="427.92" y="193.20" text-anchor="middle" font-size="9.79">-2</text>
<text x="457.24" y="193.20" text-anchor="middle" font-size="9.79">0</text>
<text x="486.56" y="193.20" text-anchor="middle" font-size="9.79">2</text>
<text x="515.88" y="193.20" text-anchor="middle" font-size="9.79">4</text>
<text x="545.20" y="193.20" text-anchor="middle" font-size="9.79">6</text>
<path d="M325.30 175.79h-3.4 M325.30 141.74h-3.4 M325.30 107.68h-3.4 M325.30 73.62h-3.4 M325.30 39.56h-3.4 M325.30 5.50h-3.4 M325.30 158.76h-2 M325.30 124.71h-2 M325.30 90.65h-2 M325.30 56.59h-2 M325.30 22.53h-2 M339.96 179.20v3.4 M369.28 179.20v3.4 M398.60 179.20v3.4 M427.92 179.20v3.4 M457.24 179.20v3.4 M486.56 179.20v3.4 M515.88 179.20v3.4 M545.20 179.20v3.4" stroke="#1a1a1a" stroke-width="1.1" fill="none"/>
<text x="360.70" y="210.00" font-size="10.70" textLength="150.0" lengthAdjust="spacingAndGlyphs">Distance from excavation face <tspan font-style="italic">x</tspan>/<tspan font-style="italic">R</tspan></text>
<text transform="translate(309.80,165.30) rotate(-90)" font-size="10.70" textLength="144.3" lengthAdjust="spacingAndGlyphs">Deformation Velocity (mm/MPa)</text>
<text x="342.70" y="19.30" font-size="10.70" textLength="37.6" lengthAdjust="spacingAndGlyphs"><tspan font-style="italic">H</tspan>=500m</text>
<line x1="475.00" y1="15.80" x2="499.70" y2="15.80" stroke="#515151" stroke-width="1.6"/>
<rect x="485.35" y="13.80" width="4.00" height="4.00" fill="#515151"/>
<text x="503.00" y="19.44" font-size="10.70"><tspan font-style="italic">BQ</tspan>150</text>
<line x1="475.00" y1="28.95" x2="499.70" y2="28.95" stroke="#F14040" stroke-width="1.2"/>
<circle cx="487.35" cy="28.95" r="2.10" fill="#F14040"/>
<text x="503.00" y="32.59" font-size="10.70"><tspan font-style="italic">BQ</tspan>170</text>
<line x1="475.00" y1="42.10" x2="499.70" y2="42.10" stroke="#1A6FDF" stroke-width="1.2"/>
<path d="M487.35 39.60L489.85 43.98L484.85 43.98Z" fill="#1A6FDF"/>
<text x="503.00" y="45.74" font-size="10.70"><tspan font-style="italic">BQ</tspan>190</text>
<line x1="475.00" y1="55.25" x2="499.70" y2="55.25" stroke="#37AD6B" stroke-width="1.2"/>
<path d="M487.35 57.75L489.85 53.38L484.85 53.38Z" fill="#37AD6B"/>
<text x="503.00" y="58.89" font-size="10.70"><tspan font-style="italic">BQ</tspan>210</text>
<line x1="475.00" y1="68.40" x2="499.70" y2="68.40" stroke="#B177DE" stroke-width="1.2"/>
<path d="M487.35 65.90L489.85 68.40L487.35 70.90L484.85 68.40Z" fill="#B177DE"/>
<text x="503.00" y="72.04" font-size="10.70"><tspan font-style="italic">BQ</tspan>230</text>
<line x1="475.00" y1="81.55" x2="499.70" y2="81.55" stroke="#CC9900" stroke-width="1.2"/>
<path d="M484.85 81.55L489.23 79.05L489.23 84.05Z" fill="#CC9900"/>
<text x="503.00" y="85.19" font-size="10.70"><tspan font-style="italic">BQ</tspan>250</text>
<text x="411.50" y="242.50" font-size="15.00" style="stroke:none">(<tspan font-weight="bold">b</tspan>)</text>
<g clip-path="url(#clipc)">
<path d="M45.62 435.19 L52.70 434.92 L59.79 434.52 L66.88 433.91 L73.96 432.96 L81.05 431.46 L88.14 429.06 L95.22 425.13 L101.60 419.38 L108.69 409.52 L115.77 393.09 L122.86 366.80 L129.24 361.22 L137.03 378.30 L144.55 393.09 L151.77 404.27 L159.00 397.04 L166.37 424.64 L173.46 429.57 L180.26 432.60 L187.35 433.98 L194.44 434.64 L201.52 434.98 L208.61 435.17 L215.70 435.31 L222.78 435.42 L229.87 435.51 L236.96 435.57" fill="none" stroke="#515151" stroke-width="1.2" stroke-linejoin="round"/>
<rect x="43.62" y="433.19" width="4.00" height="4.00" fill="#515151"/>
<rect x="50.70" y="432.92" width="4.00" height="4.00" fill="#515151"/>
<rect x="57.79" y="432.52" width="4.00" height="4.00" fill="#515151"/>
<rect x="64.88" y="431.91" width="4.00" height="4.00" fill="#515151"/>
<rect x="71.96" y="430.96" width="4.00" height="4.00" fill="#515151"/>
<rect x="79.05" y="429.46" width="4.00" height="4.00" fill="#515151"/>
<rect x="86.14" y="427.06" width="4.00" height="4.00" fill="#515151"/>
<rect x="93.22" y="423.13" width="4.00" height="4.00" fill="#515151"/>
<rect x="99.60" y="417.38" width="4.00" height="4.00" fill="#515151"/>
<rect x="106.69" y="407.52" width="4.00" height="4.00" fill="#515151"/>
<rect x="113.77" y="391.09" width="4.00" height="4.00" fill="#515151"/>
<rect x="120.86" y="364.80" width="4.00" height="4.00" fill="#515151"/>
<rect x="127.24" y="359.22" width="4.00" height="4.00" fill="#515151"/>
<rect x="135.03" y="376.30" width="4.00" height="4.00" fill="#515151"/>
<rect x="142.55" y="391.09" width="4.00" height="4.00" fill="#515151"/>
<rect x="149.77" y="402.27" width="4.00" height="4.00" fill="#515151"/>
<rect x="157.00" y="395.04" width="4.00" height="4.00" fill="#515151"/>
<rect x="164.37" y="422.64" width="4.00" height="4.00" fill="#515151"/>
<rect x="171.46" y="427.57" width="4.00" height="4.00" fill="#515151"/>
<rect x="178.26" y="430.60" width="4.00" height="4.00" fill="#515151"/>
<rect x="185.35" y="431.98" width="4.00" height="4.00" fill="#515151"/>
<rect x="192.44" y="432.64" width="4.00" height="4.00" fill="#515151"/>
<rect x="199.52" y="432.98" width="4.00" height="4.00" fill="#515151"/>
<rect x="206.61" y="433.17" width="4.00" height="4.00" fill="#515151"/>
<rect x="213.70" y="433.31" width="4.00" height="4.00" fill="#515151"/>
<rect x="220.78" y="433.42" width="4.00" height="4.00" fill="#515151"/>
<rect x="227.87" y="433.51" width="4.00" height="4.00" fill="#515151"/>
<rect x="234.96" y="433.57" width="4.00" height="4.00" fill="#515151"/>
<path d="M45.62 435.13 L52.70 434.84 L59.79 434.40 L66.88 433.74 L73.96 432.70 L81.05 431.07 L88.14 428.45 L95.22 424.16 L101.46 418.07 L108.83 407.22 L116.06 388.82 L122.58 361.22 L129.95 359.24 L137.18 380.28 L144.55 395.39 L151.77 406.57 L159.00 409.52 L166.37 424.64 L173.46 429.57 L180.26 432.60 L187.35 433.98 L194.44 434.64 L201.52 434.98 L208.61 435.17 L215.70 435.31 L222.78 435.42 L229.87 435.51 L236.96 435.57" fill="none" stroke="#F14040" stroke-width="1.2" stroke-linejoin="round"/>
<circle cx="45.62" cy="435.13" r="2.10" fill="#F14040"/>
<circle cx="52.70" cy="434.84" r="2.10" fill="#F14040"/>
<circle cx="59.79" cy="434.40" r="2.10" fill="#F14040"/>
<circle cx="66.88" cy="433.74" r="2.10" fill="#F14040"/>
<circle cx="73.96" cy="432.70" r="2.10" fill="#F14040"/>
<circle cx="81.05" cy="431.07" r="2.10" fill="#F14040"/>
<circle cx="88.14" cy="428.45" r="2.10" fill="#F14040"/>
<circle cx="95.22" cy="424.16" r="2.10" fill="#F14040"/>
<circle cx="101.46" cy="418.07" r="2.10" fill="#F14040"/>
<circle cx="108.83" cy="407.22" r="2.10" fill="#F14040"/>
<circle cx="116.06" cy="388.82" r="2.10" fill="#F14040"/>
<circle cx="122.58" cy="361.22" r="2.10" fill="#F14040"/>
<circle cx="129.95" cy="359.24" r="2.10" fill="#F14040"/>
<circle cx="137.18" cy="380.28" r="2.10" fill="#F14040"/>
<circle cx="144.55" cy="395.39" r="2.10" fill="#F14040"/>
<circle cx="151.77" cy="406.57" r="2.10" fill="#F14040"/>
<circle cx="159.00" cy="409.52" r="2.10" fill="#F14040"/>
<circle cx="166.37" cy="424.64" r="2.10" fill="#F14040"/>
<circle cx="173.46" cy="429.57" r="2.10" fill="#F14040"/>
<circle cx="180.26" cy="432.60" r="2.10" fill="#F14040"/>
<circle cx="187.35" cy="433.98" r="2.10" fill="#F14040"/>
<circle cx="194.44" cy="434.64" r="2.10" fill="#F14040"/>
<circle cx="201.52" cy="434.98" r="2.10" fill="#F14040"/>
<circle cx="208.61" cy="435.17" r="2.10" fill="#F14040"/>
<circle cx="215.70" cy="435.31" r="2.10" fill="#F14040"/>
<circle cx="222.78" cy="435.42" r="2.10" fill="#F14040"/>
<circle cx="229.87" cy="435.51" r="2.10" fill="#F14040"/>
<circle cx="236.96" cy="435.57" r="2.10" fill="#F14040"/>
<path d="M45.62 435.19 L52.70 434.92 L59.79 434.52 L66.88 433.91 L73.96 432.96 L81.05 431.46 L88.14 429.06 L95.22 425.13 L101.60 419.38 L108.69 409.52 L116.06 393.09 L124.14 361.22 L131.37 351.69 L137.89 373.70 L145.26 391.78 L151.77 404.92 L159.00 411.17 L166.37 424.64 L173.46 429.57 L180.26 432.60 L187.35 433.98 L194.44 434.64 L201.52 434.98 L208.61 435.17 L215.70 435.31 L222.78 435.42 L229.87 435.51 L236.96 435.57" fill="none" stroke="#1A6FDF" stroke-width="1.2" stroke-linejoin="round"/>
<path d="M45.62 432.69L48.12 437.06L43.12 437.06Z" fill="#1A6FDF"/>
<path d="M52.70 432.42L55.20 436.79L50.20 436.79Z" fill="#1A6FDF"/>
<path d="M59.79 432.02L62.29 436.39L57.29 436.39Z" fill="#1A6FDF"/>
<path d="M66.88 431.41L69.38 435.78L64.38 435.78Z" fill="#1A6FDF"/>
<path d="M73.96 430.46L76.46 434.84L71.46 434.84Z" fill="#1A6FDF"/>
<path d="M81.05 428.96L83.55 433.34L78.55 433.34Z" fill="#1A6FDF"/>
<path d="M88.14 426.56L90.64 430.93L85.64 430.93Z" fill="#1A6FDF"/>
<path d="M95.22 422.63L97.72 427.00L92.72 427.00Z" fill="#1A6FDF"/>
<path d="M101.60 416.88L104.10 421.26L99.10 421.26Z" fill="#1A6FDF"/>
<path d="M108.69 407.02L111.19 411.40L106.19 411.40Z" fill="#1A6FDF"/>
<path d="M116.06 390.59L118.56 394.97L113.56 394.97Z" fill="#1A6FDF"/>
<path d="M124.14 358.72L126.64 363.09L121.64 363.09Z" fill="#1A6FDF"/>
<path d="M131.37 349.19L133.87 353.56L128.87 353.56Z" fill="#1A6FDF"/>
<path d="M137.89 371.20L140.39 375.58L135.39 375.58Z" fill="#1A6FDF"/>
<path d="M145.26 389.28L147.76 393.65L142.76 393.65Z" fill="#1A6FDF"/>
<path d="M151.77 402.42L154.27 406.80L149.27 406.80Z" fill="#1A6FDF"/>
<path d="M159.00 408.67L161.50 413.04L156.50 413.04Z" fill="#1A6FDF"/>
<path d="M166.37 422.14L168.87 426.52L163.87 426.52Z" fill="#1A6FDF"/>
<path d="M173.46 427.07L175.96 431.44L170.96 431.44Z" fill="#1A6FDF"/>
<path d="M180.26 430.10L182.76 434.48L177.76 434.48Z" fill="#1A6FDF"/>
<path d="M187.35 431.48L189.85 435.86L184.85 435.86Z" fill="#1A6FDF"/>
<path d="M194.44 432.14L196.94 436.52L191.94 436.52Z" fill="#1A6FDF"/>
<path d="M201.52 432.48L204.02 436.86L199.02 436.86Z" fill="#1A6FDF"/>
<path d="M208.61 432.67L211.11 437.04L206.11 437.04Z" fill="#1A6FDF"/>
<path d="M215.70 432.81L218.20 437.18L213.20 437.18Z" fill="#1A6FDF"/>
<path d="M222.78 432.92L225.28 437.29L220.28 437.29Z" fill="#1A6FDF"/>
<path d="M229.87 433.01L232.37 437.38L227.37 437.38Z" fill="#1A6FDF"/>
<path d="M236.96 433.07L239.46 437.45L234.46 437.45Z" fill="#1A6FDF"/>
<path d="M45.62 435.25 L52.70 435.01 L59.79 434.65 L66.88 434.10 L73.96 433.25 L81.05 431.90 L88.14 429.74 L95.22 426.20 L101.60 421.03 L108.69 412.15 L116.06 398.02 L125.55 364.83 L132.78 343.80 L137.89 361.22 L145.26 385.21 L152.20 400.65 L159.00 409.52 L166.37 424.64 L173.46 429.57 L180.26 432.60 L187.35 433.98 L194.44 434.64 L201.52 434.98 L208.61 435.17 L215.70 435.31 L222.78 435.42 L229.87 435.51 L236.96 435.57" fill="none" stroke="#37AD6B" stroke-width="1.2" stroke-linejoin="round"/>
<path d="M45.62 437.75L48.12 433.37L43.12 433.37Z" fill="#37AD6B"/>
<path d="M52.70 437.51L55.20 433.13L50.20 433.13Z" fill="#37AD6B"/>
<path d="M59.79 437.15L62.29 432.77L57.29 432.77Z" fill="#37AD6B"/>
<path d="M66.88 436.60L69.38 432.22L64.38 432.22Z" fill="#37AD6B"/>
<path d="M73.96 435.75L76.46 431.37L71.46 431.37Z" fill="#37AD6B"/>
<path d="M81.05 434.40L83.55 430.02L78.55 430.02Z" fill="#37AD6B"/>
<path d="M88.14 432.24L90.64 427.86L85.64 427.86Z" fill="#37AD6B"/>
<path d="M95.22 428.70L97.72 424.32L92.72 424.32Z" fill="#37AD6B"/>
<path d="M101.60 423.53L104.10 419.15L99.10 419.15Z" fill="#37AD6B"/>
<path d="M108.69 414.65L111.19 410.28L106.19 410.28Z" fill="#37AD6B"/>
<path d="M116.06 400.52L118.56 396.15L113.56 396.15Z" fill="#37AD6B"/>
<path d="M125.55 367.33L128.05 362.96L123.05 362.96Z" fill="#37AD6B"/>
<path d="M132.78 346.30L135.28 341.92L130.28 341.92Z" fill="#37AD6B"/>
<path d="M137.89 363.72L140.39 359.34L135.39 359.34Z" fill="#37AD6B"/>
<path d="M145.26 387.71L147.76 383.33L142.76 383.33Z" fill="#37AD6B"/>
<path d="M152.20 403.15L154.70 398.78L149.70 398.78Z" fill="#37AD6B"/>
<path d="M159.00 412.02L161.50 407.65L156.50 407.65Z" fill="#37AD6B"/>
<path d="M166.37 427.14L168.87 422.77L163.87 422.77Z" fill="#37AD6B"/>
<path d="M173.46 432.07L175.96 427.69L170.96 427.69Z" fill="#37AD6B"/>
<path d="M180.26 435.10L182.76 430.73L177.76 430.73Z" fill="#37AD6B"/>
<path d="M187.35 436.48L189.85 432.11L184.85 432.11Z" fill="#37AD6B"/>
<path d="M194.44 437.14L196.94 432.77L191.94 432.77Z" fill="#37AD6B"/>
<path d="M201.52 437.48L204.02 433.11L199.02 433.11Z" fill="#37AD6B"/>
<path d="M208.61 437.67L211.11 433.29L206.11 433.29Z" fill="#37AD6B"/>
<path d="M215.70 437.81L218.20 433.43L213.20 433.43Z" fill="#37AD6B"/>
<path d="M222.78 437.92L225.28 433.54L220.28 433.54Z" fill="#37AD6B"/>
<path d="M229.87 438.01L232.37 433.63L227.37 433.63Z" fill="#37AD6B"/>
<path d="M236.96 438.07L239.46 433.70L234.46 433.70Z" fill="#37AD6B"/>
<path d="M45.62 435.34 L52.70 435.13 L59.79 434.83 L66.88 434.37 L73.96 433.65 L81.05 432.51 L88.14 430.68 L95.22 427.69 L101.60 423.33 L108.69 415.44 L116.06 402.95 L126.97 367.79 L134.20 365.16 L137.89 347.41 L145.26 377.32 L152.20 396.05 L159.00 407.88 L166.37 424.64 L173.46 429.57 L180.26 432.60 L187.35 433.98 L194.44 434.64 L201.52 434.98 L208.61 435.17 L215.70 435.31 L222.78 435.42 L229.87 435.51 L236.96 435.57" fill="none" stroke="#B177DE" stroke-width="1.2" stroke-linejoin="round"/>
<path d="M45.62 432.84L48.12 435.34L45.62 437.84L43.12 435.34Z" fill="#B177DE"/>
<path d="M52.70 432.63L55.20 435.13L52.70 437.63L50.20 435.13Z" fill="#B177DE"/>
<path d="M59.79 432.33L62.29 434.83L59.79 437.33L57.29 434.83Z" fill="#B177DE"/>
<path d="M66.88 431.87L69.38 434.37L66.88 436.87L64.38 434.37Z" fill="#B177DE"/>
<path d="M73.96 431.15L76.46 433.65L73.96 436.15L71.46 433.65Z" fill="#B177DE"/>
<path d="M81.05 430.01L83.55 432.51L81.05 435.01L78.55 432.51Z" fill="#B177DE"/>
<path d="M88.14 428.18L90.64 430.68L88.14 433.18L85.64 430.68Z" fill="#B177DE"/>
<path d="M95.22 425.19L97.72 427.69L95.22 430.19L92.72 427.69Z" fill="#B177DE"/>
<path d="M101.60 420.83L104.10 423.33L101.60 425.83L99.10 423.33Z" fill="#B177DE"/>
<path d="M108.69 412.94L111.19 415.44L108.69 417.94L106.19 415.44Z" fill="#B177DE"/>
<path d="M116.06 400.45L118.56 402.95L116.06 405.45L113.56 402.95Z" fill="#B177DE"/>
<path d="M126.97 365.29L129.47 367.79L126.97 370.29L124.47 367.79Z" fill="#B177DE"/>
<path d="M134.20 362.66L136.70 365.16L134.20 367.66L131.70 365.16Z" fill="#B177DE"/>
<path d="M137.89 344.91L140.39 347.41L137.89 349.91L135.39 347.41Z" fill="#B177DE"/>
<path d="M145.26 374.82L147.76 377.32L145.26 379.82L142.76 377.32Z" fill="#B177DE"/>
<path d="M152.20 393.55L154.70 396.05L152.20 398.55L149.70 396.05Z" fill="#B177DE"/>
<path d="M159.00 405.38L161.50 407.88L159.00 410.38L156.50 407.88Z" fill="#B177DE"/>
<path d="M166.37 422.14L168.87 424.64L166.37 427.14L163.87 424.64Z" fill="#B177DE"/>
<path d="M173.46 427.07L175.96 429.57L173.46 432.07L170.96 429.57Z" fill="#B177DE"/>
<path d="M180.26 430.10L182.76 432.60L180.26 435.10L177.76 432.60Z" fill="#B177DE"/>
<path d="M187.35 431.48L189.85 433.98L187.35 436.48L184.85 433.98Z" fill="#B177DE"/>
<path d="M194.44 432.14L196.94 434.64L194.44 437.14L191.94 434.64Z" fill="#B177DE"/>
<path d="M201.52 432.48L204.02 434.98L201.52 437.48L199.02 434.98Z" fill="#B177DE"/>
<path d="M208.61 432.67L211.11 435.17L208.61 437.67L206.11 435.17Z" fill="#B177DE"/>
<path d="M215.70 432.81L218.20 435.31L215.70 437.81L213.20 435.31Z" fill="#B177DE"/>
<path d="M222.78 432.92L225.28 435.42L222.78 437.92L220.28 435.42Z" fill="#B177DE"/>
<path d="M229.87 433.01L232.37 435.51L229.87 438.01L227.37 435.51Z" fill="#B177DE"/>
<path d="M236.96 433.07L239.46 435.57L236.96 438.07L234.46 435.57Z" fill="#B177DE"/>
<path d="M45.62 435.46 L52.70 435.31 L59.79 435.09 L66.88 434.75 L73.96 434.22 L81.05 433.38 L88.14 432.03 L95.22 429.83 L101.60 426.61 L108.83 419.38 L116.06 409.19 L123.43 391.78 L131.37 356.29 L138.59 337.88 L144.55 367.13 L151.77 391.12 L159.00 404.92 L166.37 424.64 L173.46 429.57 L180.26 432.60 L187.35 433.98 L194.44 434.64 L201.52 434.98 L208.61 435.17 L215.70 435.31 L222.78 435.42 L229.87 435.51 L236.96 435.57" fill="none" stroke="#CC9900" stroke-width="1.2" stroke-linejoin="round"/>
<path d="M43.12 435.46L47.49 432.96L47.49 437.96Z" fill="#CC9900"/>
<path d="M50.20 435.31L54.58 432.81L54.58 437.81Z" fill="#CC9900"/>
<path d="M57.29 435.09L61.66 432.59L61.66 437.59Z" fill="#CC9900"/>
<path d="M64.38 434.75L68.75 432.25L68.75 437.25Z" fill="#CC9900"/>
<path d="M71.46 434.22L75.84 431.72L75.84 436.72Z" fill="#CC9900"/>
<path d="M78.55 433.38L82.92 430.88L82.92 435.88Z" fill="#CC9900"/>
<path d="M85.64 432.03L90.01 429.53L90.01 434.53Z" fill="#CC9900"/>
<path d="M92.72 429.83L97.10 427.33L97.10 432.33Z" fill="#CC9900"/>
<path d="M99.10 426.61L103.48 424.11L103.48 429.11Z" fill="#CC9900"/>
<path d="M106.33 419.38L110.70 416.88L110.70 421.88Z" fill="#CC9900"/>
<path d="M113.56 409.19L117.93 406.69L117.93 411.69Z" fill="#CC9900"/>
<path d="M120.93 391.78L125.30 389.28L125.30 394.28Z" fill="#CC9900"/>
<path d="M128.87 356.29L133.24 353.79L133.24 358.79Z" fill="#CC9900"/>
<path d="M136.09 337.88L140.47 335.38L140.47 340.38Z" fill="#CC9900"/>
<path d="M142.05 367.13L146.42 364.63L146.42 369.63Z" fill="#CC9900"/>
<path d="M149.27 391.12L153.65 388.62L153.65 393.62Z" fill="#CC9900"/>
<path d="M156.50 404.92L160.88 402.42L160.88 407.42Z" fill="#CC9900"/>
<path d="M163.87 424.64L168.25 422.14L168.25 427.14Z" fill="#CC9900"/>
<path d="M170.96 429.57L175.34 427.07L175.34 432.07Z" fill="#CC9900"/>
<path d="M177.76 432.60L182.14 430.10L182.14 435.10Z" fill="#CC9900"/>
<path d="M184.85 433.98L189.23 431.48L189.23 436.48Z" fill="#CC9900"/>
<path d="M191.94 434.64L196.31 432.14L196.31 437.14Z" fill="#CC9900"/>
<path d="M199.02 434.98L203.40 432.48L203.40 437.48Z" fill="#CC9900"/>
<path d="M206.11 435.17L210.49 432.67L210.49 437.67Z" fill="#CC9900"/>
<path d="M213.20 435.31L217.57 432.81L217.57 437.81Z" fill="#CC9900"/>
<path d="M220.28 435.42L224.66 432.92L224.66 437.92Z" fill="#CC9900"/>
<path d="M227.37 435.51L231.75 433.01L231.75 438.01Z" fill="#CC9900"/>
<path d="M234.46 435.57L238.83 433.07L238.83 438.07Z" fill="#CC9900"/>
</g>
<line x1="155.46" y1="273.10" x2="155.46" y2="439.10" stroke="#111" stroke-width="1.5" stroke-dasharray="4.6 4.2"/>
<rect x="27.90" y="271.50" width="212.60" height="167.60" fill="none" stroke="#1a1a1a" stroke-width="1.15"/>
<text x="22.30" y="439.02" text-anchor="end" font-size="9.42">0</text>
<text x="22.30" y="406.16" text-anchor="end" font-size="9.42">1</text>
<text x="22.30" y="373.29" text-anchor="end" font-size="9.42">2</text>
<text x="22.30" y="340.43" text-anchor="end" font-size="9.42">3</text>
<text x="22.30" y="307.57" text-anchor="end" font-size="9.42">4</text>
<text x="22.30" y="274.70" text-anchor="end" font-size="9.42">5</text>
<text x="42.07" y="452.58" text-anchor="middle" font-size="9.42">-8</text>
<text x="70.42" y="452.58" text-anchor="middle" font-size="9.42">-6</text>
<text x="98.77" y="452.58" text-anchor="middle" font-size="9.42">-4</text>
<text x="127.11" y="452.58" text-anchor="middle" font-size="9.42">-2</text>
<text x="155.46" y="452.58" text-anchor="middle" font-size="9.42">0</text>
<text x="183.81" y="452.58" text-anchor="middle" font-size="9.42">2</text>
<text x="212.15" y="452.58" text-anchor="middle" font-size="9.42">4</text>
<text x="240.50" y="452.58" text-anchor="middle" font-size="9.42">6</text>
<path d="M27.90 435.81h-3.4 M27.90 402.95h-3.4 M27.90 370.09h-3.4 M27.90 337.23h-3.4 M27.90 304.36h-3.4 M27.90 271.50h-3.4 M27.90 419.38h-2 M27.90 386.52h-2 M27.90 353.66h-2 M27.90 320.79h-2 M27.90 287.93h-2 M42.07 439.10v3.4 M70.42 439.10v3.4 M98.77 439.10v3.4 M127.11 439.10v3.4 M155.46 439.10v3.4 M183.81 439.10v3.4 M212.15 439.10v3.4 M240.50 439.10v3.4" stroke="#1a1a1a" stroke-width="1.1" fill="none"/>
<text x="62.30" y="469.10" font-size="10.30" textLength="145.0" lengthAdjust="spacingAndGlyphs">Distance from excavation face <tspan font-style="italic">x</tspan>/<tspan font-style="italic">R</tspan></text>
<text transform="translate(13.10,425.60) rotate(-90)" font-size="10.30" textLength="138.6" lengthAdjust="spacingAndGlyphs">Deformation Velocity (mm/MPa)</text>
<text x="44.60" y="285.30" font-size="10.30" textLength="36.3" lengthAdjust="spacingAndGlyphs"><tspan font-style="italic">H</tspan>=700m</text>
<line x1="172.40" y1="281.60" x2="196.60" y2="281.60" stroke="#515151" stroke-width="1.6"/>
<rect x="182.50" y="279.60" width="4.00" height="4.00" fill="#515151"/>
<text x="199.40" y="285.10" font-size="10.30"><tspan font-style="italic">BQ</tspan>150</text>
<line x1="172.40" y1="294.35" x2="196.60" y2="294.35" stroke="#F14040" stroke-width="1.2"/>
<circle cx="184.50" cy="294.35" r="2.10" fill="#F14040"/>
<text x="199.40" y="297.85" font-size="10.30"><tspan font-style="italic">BQ</tspan>170</text>
<line x1="172.40" y1="307.10" x2="196.60" y2="307.10" stroke="#1A6FDF" stroke-width="1.2"/>
<path d="M184.50 304.60L187.00 308.98L182.00 308.98Z" fill="#1A6FDF"/>
<text x="199.40" y="310.60" font-size="10.30"><tspan font-style="italic">BQ</tspan>190</text>
<line x1="172.40" y1="319.85" x2="196.60" y2="319.85" stroke="#37AD6B" stroke-width="1.2"/>
<path d="M184.50 322.35L187.00 317.98L182.00 317.98Z" fill="#37AD6B"/>
<text x="199.40" y="323.35" font-size="10.30"><tspan font-style="italic">BQ</tspan>210</text>
<line x1="172.40" y1="332.60" x2="196.60" y2="332.60" stroke="#B177DE" stroke-width="1.2"/>
<path d="M184.50 330.10L187.00 332.60L184.50 335.10L182.00 332.60Z" fill="#B177DE"/>
<text x="199.40" y="336.10" font-size="10.30"><tspan font-style="italic">BQ</tspan>230</text>
<line x1="172.40" y1="345.35" x2="196.60" y2="345.35" stroke="#CC9900" stroke-width="1.2"/>
<path d="M182.00 345.35L186.38 342.85L186.38 347.85Z" fill="#CC9900"/>
<text x="199.40" y="348.85" font-size="10.30"><tspan font-style="italic">BQ</tspan>250</text>
<text x="112.40" y="505.40" font-size="15.00" style="stroke:none">(<tspan font-weight="bold">c</tspan>)</text>
<g clip-path="url(#clipd)">
<path d="M346.22 437.40 L353.30 437.02 L360.39 436.45 L367.48 435.58 L374.56 434.23 L381.65 432.10 L388.74 428.68 L395.82 423.08 L402.48 414.45 L409.15 400.83 L416.52 378.69 L425.87 354.17 L430.55 338.50 L439.05 356.55 L445.43 378.69 L452.09 395.72 L458.75 405.94 L466.26 422.97 L473.78 430.94 L480.86 434.10 L487.95 435.61 L495.04 436.39 L502.12 436.81 L509.21 437.14 L516.30 437.39 L523.38 437.59 L530.47 437.74 L537.56 437.87" fill="none" stroke="#515151" stroke-width="1.2" stroke-linejoin="round"/>
<rect x="344.22" y="435.40" width="4.00" height="4.00" fill="#515151"/>
<rect x="351.30" y="435.02" width="4.00" height="4.00" fill="#515151"/>
<rect x="358.39" y="434.45" width="4.00" height="4.00" fill="#515151"/>
<rect x="365.48" y="433.58" width="4.00" height="4.00" fill="#515151"/>
<rect x="372.56" y="432.23" width="4.00" height="4.00" fill="#515151"/>
<rect x="379.65" y="430.10" width="4.00" height="4.00" fill="#515151"/>
<rect x="386.74" y="426.68" width="4.00" height="4.00" fill="#515151"/>
<rect x="393.82" y="421.08" width="4.00" height="4.00" fill="#515151"/>
<rect x="400.48" y="412.45" width="4.00" height="4.00" fill="#515151"/>
<rect x="407.15" y="398.83" width="4.00" height="4.00" fill="#515151"/>
<rect x="414.52" y="376.69" width="4.00" height="4.00" fill="#515151"/>
<rect x="423.87" y="352.17" width="4.00" height="4.00" fill="#515151"/>
<rect x="428.55" y="336.50" width="4.00" height="4.00" fill="#515151"/>
<rect x="437.05" y="354.55" width="4.00" height="4.00" fill="#515151"/>
<rect x="443.43" y="376.69" width="4.00" height="4.00" fill="#515151"/>
<rect x="450.09" y="393.72" width="4.00" height="4.00" fill="#515151"/>
<rect x="456.75" y="403.94" width="4.00" height="4.00" fill="#515151"/>
<rect x="464.26" y="420.97" width="4.00" height="4.00" fill="#515151"/>
<rect x="471.78" y="428.94" width="4.00" height="4.00" fill="#515151"/>
<rect x="478.86" y="432.10" width="4.00" height="4.00" fill="#515151"/>
<rect x="485.95" y="433.61" width="4.00" height="4.00" fill="#515151"/>
<rect x="493.04" y="434.39" width="4.00" height="4.00" fill="#515151"/>
<rect x="500.12" y="434.81" width="4.00" height="4.00" fill="#515151"/>
<rect x="507.21" y="435.14" width="4.00" height="4.00" fill="#515151"/>
<rect x="514.30" y="435.39" width="4.00" height="4.00" fill="#515151"/>
<rect x="521.38" y="435.59" width="4.00" height="4.00" fill="#515151"/>
<rect x="528.47" y="435.74" width="4.00" height="4.00" fill="#515151"/>
<rect x="535.56" y="435.87" width="4.00" height="4.00" fill="#515151"/>
<path d="M346.22 437.39 L353.30 437.00 L360.39 436.42 L367.48 435.54 L374.56 434.17 L381.65 432.01 L388.74 428.54 L395.82 422.87 L402.48 414.11 L409.15 399.13 L416.52 375.29 L423.04 338.50 L430.55 337.48 L437.78 365.75 L444.58 385.16 L452.09 398.45 L459.60 397.42 L466.26 424.67 L473.78 431.76 L480.86 434.57 L487.95 435.91 L495.04 436.60 L502.12 436.97 L509.21 437.26 L516.30 437.49 L523.38 437.67 L530.47 437.81 L537.56 437.91" fill="none" stroke="#F14040" stroke-width="1.2" stroke-linejoin="round"/>
<circle cx="346.22" cy="437.39" r="2.10" fill="#F14040"/>
<circle cx="353.30" cy="437.00" r="2.10" fill="#F14040"/>
<circle cx="360.39" cy="436.42" r="2.10" fill="#F14040"/>
<circle cx="367.48" cy="435.54" r="2.10" fill="#F14040"/>
<circle cx="374.56" cy="434.17" r="2.10" fill="#F14040"/>
<circle cx="381.65" cy="432.01" r="2.10" fill="#F14040"/>
<circle cx="388.74" cy="428.54" r="2.10" fill="#F14040"/>
<circle cx="395.82" cy="422.87" r="2.10" fill="#F14040"/>
<circle cx="402.48" cy="414.11" r="2.10" fill="#F14040"/>
<circle cx="409.15" cy="399.13" r="2.10" fill="#F14040"/>
<circle cx="416.52" cy="375.29" r="2.10" fill="#F14040"/>
<circle cx="423.04" cy="338.50" r="2.10" fill="#F14040"/>
<circle cx="430.55" cy="337.48" r="2.10" fill="#F14040"/>
<circle cx="437.78" cy="365.75" r="2.10" fill="#F14040"/>
<circle cx="444.58" cy="385.16" r="2.10" fill="#F14040"/>
<circle cx="452.09" cy="398.45" r="2.10" fill="#F14040"/>
<circle cx="459.60" cy="397.42" r="2.10" fill="#F14040"/>
<circle cx="466.26" cy="424.67" r="2.10" fill="#F14040"/>
<circle cx="473.78" cy="431.76" r="2.10" fill="#F14040"/>
<circle cx="480.86" cy="434.57" r="2.10" fill="#F14040"/>
<circle cx="487.95" cy="435.91" r="2.10" fill="#F14040"/>
<circle cx="495.04" cy="436.60" r="2.10" fill="#F14040"/>
<circle cx="502.12" cy="436.97" r="2.10" fill="#F14040"/>
<circle cx="509.21" cy="437.26" r="2.10" fill="#F14040"/>
<circle cx="516.30" cy="437.49" r="2.10" fill="#F14040"/>
<circle cx="523.38" cy="437.67" r="2.10" fill="#F14040"/>
<circle cx="530.47" cy="437.81" r="2.10" fill="#F14040"/>
<circle cx="537.56" cy="437.91" r="2.10" fill="#F14040"/>
<path d="M346.22 437.34 L353.30 436.93 L360.39 436.32 L367.48 435.39 L374.56 433.94 L381.65 431.66 L388.74 427.99 L395.82 422.00 L402.48 412.75 L409.15 397.42 L416.52 374.94 L423.89 336.46 L431.54 332.03 L438.34 362.68 L444.58 385.16 L452.09 399.81 L459.60 405.94 L466.26 424.67 L473.78 431.76 L480.86 434.57 L487.95 435.91 L495.04 436.60 L502.12 436.97 L509.21 437.26 L516.30 437.49 L523.38 437.67 L530.47 437.81 L537.56 437.91" fill="none" stroke="#1A6FDF" stroke-width="1.2" stroke-linejoin="round"/>
<path d="M346.22 434.84L348.72 439.21L343.72 439.21Z" fill="#1A6FDF"/>
<path d="M353.30 434.43L355.80 438.80L350.80 438.80Z" fill="#1A6FDF"/>
<path d="M360.39 433.82L362.89 438.19L357.89 438.19Z" fill="#1A6FDF"/>
<path d="M367.48 432.89L369.98 437.26L364.98 437.26Z" fill="#1A6FDF"/>
<path d="M374.56 431.44L377.06 435.82L372.06 435.82Z" fill="#1A6FDF"/>
<path d="M381.65 429.16L384.15 433.54L379.15 433.54Z" fill="#1A6FDF"/>
<path d="M388.74 425.49L391.24 429.87L386.24 429.87Z" fill="#1A6FDF"/>
<path d="M395.82 419.50L398.32 423.87L393.32 423.87Z" fill="#1A6FDF"/>
<path d="M402.48 410.25L404.98 414.62L399.98 414.62Z" fill="#1A6FDF"/>
<path d="M409.15 394.92L411.65 399.30L406.65 399.30Z" fill="#1A6FDF"/>
<path d="M416.52 372.44L419.02 376.82L414.02 376.82Z" fill="#1A6FDF"/>
<path d="M423.89 333.96L426.39 338.33L421.39 338.33Z" fill="#1A6FDF"/>
<path d="M431.54 329.53L434.04 333.91L429.04 333.91Z" fill="#1A6FDF"/>
<path d="M438.34 360.18L440.84 364.56L435.84 364.56Z" fill="#1A6FDF"/>
<path d="M444.58 382.66L447.08 387.04L442.08 387.04Z" fill="#1A6FDF"/>
<path d="M452.09 397.31L454.59 401.68L449.59 401.68Z" fill="#1A6FDF"/>
<path d="M459.60 403.44L462.10 407.81L457.10 407.81Z" fill="#1A6FDF"/>
<path d="M466.26 422.17L468.76 426.55L463.76 426.55Z" fill="#1A6FDF"/>
<path d="M473.78 429.26L476.28 433.63L471.28 433.63Z" fill="#1A6FDF"/>
<path d="M480.86 432.07L483.36 436.44L478.36 436.44Z" fill="#1A6FDF"/>
<path d="M487.95 433.41L490.45 437.79L485.45 437.79Z" fill="#1A6FDF"/>
<path d="M495.04 434.10L497.54 438.48L492.54 438.48Z" fill="#1A6FDF"/>
<path d="M502.12 434.47L504.62 438.85L499.62 438.85Z" fill="#1A6FDF"/>
<path d="M509.21 434.76L511.71 439.14L506.71 439.14Z" fill="#1A6FDF"/>
<path d="M516.30 434.99L518.80 439.37L513.80 439.37Z" fill="#1A6FDF"/>
<path d="M523.38 435.17L525.88 439.54L520.88 439.54Z" fill="#1A6FDF"/>
<path d="M530.47 435.31L532.97 439.68L527.97 439.68Z" fill="#1A6FDF"/>
<path d="M537.56 435.41L540.06 439.79L535.06 439.79Z" fill="#1A6FDF"/>
<path d="M346.22 437.46 L353.30 437.11 L360.39 436.58 L367.48 435.77 L374.56 434.52 L381.65 432.55 L388.74 429.37 L395.82 424.17 L402.48 416.16 L409.15 403.55 L416.52 383.46 L423.04 346.68 L428.56 319.77 L435.93 337.14 L444.58 375.29 L452.09 395.72 L459.60 404.24 L466.26 424.67 L473.78 431.76 L480.86 434.57 L487.95 435.91 L495.04 436.60 L502.12 436.97 L509.21 437.26 L516.30 437.49 L523.38 437.67 L530.47 437.81 L537.56 437.91" fill="none" stroke="#37AD6B" stroke-width="1.2" stroke-linejoin="round"/>
<path d="M346.22 439.96L348.72 435.59L343.72 435.59Z" fill="#37AD6B"/>
<path d="M353.30 439.61L355.80 435.23L350.80 435.23Z" fill="#37AD6B"/>
<path d="M360.39 439.08L362.89 434.71L357.89 434.71Z" fill="#37AD6B"/>
<path d="M367.48 438.27L369.98 433.90L364.98 433.90Z" fill="#37AD6B"/>
<path d="M374.56 437.02L377.06 432.65L372.06 432.65Z" fill="#37AD6B"/>
<path d="M381.65 435.05L384.15 430.67L379.15 430.67Z" fill="#37AD6B"/>
<path d="M388.74 431.87L391.24 427.49L386.24 427.49Z" fill="#37AD6B"/>
<path d="M395.82 426.67L398.32 422.29L393.32 422.29Z" fill="#37AD6B"/>
<path d="M402.48 418.66L404.98 414.28L399.98 414.28Z" fill="#37AD6B"/>
<path d="M409.15 406.05L411.65 401.68L406.65 401.68Z" fill="#37AD6B"/>
<path d="M416.52 385.96L419.02 381.58L414.02 381.58Z" fill="#37AD6B"/>
<path d="M423.04 349.18L425.54 344.80L420.54 344.80Z" fill="#37AD6B"/>
<path d="M428.56 322.27L431.06 317.89L426.06 317.89Z" fill="#37AD6B"/>
<path d="M435.93 339.64L438.43 335.26L433.43 335.26Z" fill="#37AD6B"/>
<path d="M444.58 377.79L447.08 373.41L442.08 373.41Z" fill="#37AD6B"/>
<path d="M452.09 398.22L454.59 393.85L449.59 393.85Z" fill="#37AD6B"/>
<path d="M459.60 406.74L462.10 402.36L457.10 402.36Z" fill="#37AD6B"/>
<path d="M466.26 427.17L468.76 422.80L463.76 422.80Z" fill="#37AD6B"/>
<path d="M473.78 434.26L476.28 429.88L471.28 429.88Z" fill="#37AD6B"/>
<path d="M480.86 437.07L483.36 432.69L478.36 432.69Z" fill="#37AD6B"/>
<path d="M487.95 438.41L490.45 434.04L485.45 434.04Z" fill="#37AD6B"/>
<path d="M495.04 439.10L497.54 434.73L492.54 434.73Z" fill="#37AD6B"/>
<path d="M502.12 439.47L504.62 435.10L499.62 435.10Z" fill="#37AD6B"/>
<path d="M509.21 439.76L511.71 435.39L506.71 435.39Z" fill="#37AD6B"/>
<path d="M516.30 439.99L518.80 435.62L513.80 435.62Z" fill="#37AD6B"/>
<path d="M523.38 440.17L525.88 435.79L520.88 435.79Z" fill="#37AD6B"/>
<path d="M530.47 440.31L532.97 435.93L527.97 435.93Z" fill="#37AD6B"/>
<path d="M537.56 440.41L540.06 436.04L535.06 436.04Z" fill="#37AD6B"/>
<path d="M346.22 437.55 L353.30 437.24 L360.39 436.77 L367.48 436.05 L374.56 434.93 L381.65 433.16 L388.74 430.33 L395.82 425.69 L402.48 418.54 L409.15 406.96 L416.52 389.93 L423.04 357.92 L430.12 320.45 L437.07 327.94 L445.00 370.18 L452.09 392.31 L459.60 404.24 L466.26 424.67 L473.78 431.76 L480.86 434.57 L487.95 435.91 L495.04 436.60 L502.12 436.97 L509.21 437.26 L516.30 437.49 L523.38 437.67 L530.47 437.81 L537.56 437.91" fill="none" stroke="#B177DE" stroke-width="1.2" stroke-linejoin="round"/>
<path d="M346.22 435.05L348.72 437.55L346.22 440.05L343.72 437.55Z" fill="#B177DE"/>
<path d="M353.30 434.74L355.80 437.24L353.30 439.74L350.80 437.24Z" fill="#B177DE"/>
<path d="M360.39 434.27L362.89 436.77L360.39 439.27L357.89 436.77Z" fill="#B177DE"/>
<path d="M367.48 433.55L369.98 436.05L367.48 438.55L364.98 436.05Z" fill="#B177DE"/>
<path d="M374.56 432.43L377.06 434.93L374.56 437.43L372.06 434.93Z" fill="#B177DE"/>
<path d="M381.65 430.66L384.15 433.16L381.65 435.66L379.15 433.16Z" fill="#B177DE"/>
<path d="M388.74 427.83L391.24 430.33L388.74 432.83L386.24 430.33Z" fill="#B177DE"/>
<path d="M395.82 423.19L398.32 425.69L395.82 428.19L393.32 425.69Z" fill="#B177DE"/>
<path d="M402.48 416.04L404.98 418.54L402.48 421.04L399.98 418.54Z" fill="#B177DE"/>
<path d="M409.15 404.46L411.65 406.96L409.15 409.46L406.65 406.96Z" fill="#B177DE"/>
<path d="M416.52 387.43L419.02 389.93L416.52 392.43L414.02 389.93Z" fill="#B177DE"/>
<path d="M423.04 355.42L425.54 357.92L423.04 360.42L420.54 357.92Z" fill="#B177DE"/>
<path d="M430.12 317.95L432.62 320.45L430.12 322.95L427.62 320.45Z" fill="#B177DE"/>
<path d="M437.07 325.44L439.57 327.94L437.07 330.44L434.57 327.94Z" fill="#B177DE"/>
<path d="M445.00 367.68L447.50 370.18L445.00 372.68L442.50 370.18Z" fill="#B177DE"/>
<path d="M452.09 389.81L454.59 392.31L452.09 394.81L449.59 392.31Z" fill="#B177DE"/>
<path d="M459.60 401.74L462.10 404.24L459.60 406.74L457.10 404.24Z" fill="#B177DE"/>
<path d="M466.26 422.17L468.76 424.67L466.26 427.17L463.76 424.67Z" fill="#B177DE"/>
<path d="M473.78 429.26L476.28 431.76L473.78 434.26L471.28 431.76Z" fill="#B177DE"/>
<path d="M480.86 432.07L483.36 434.57L480.86 437.07L478.36 434.57Z" fill="#B177DE"/>
<path d="M487.95 433.41L490.45 435.91L487.95 438.41L485.45 435.91Z" fill="#B177DE"/>
<path d="M495.04 434.10L497.54 436.60L495.04 439.10L492.54 436.60Z" fill="#B177DE"/>
<path d="M502.12 434.47L504.62 436.97L502.12 439.47L499.62 436.97Z" fill="#B177DE"/>
<path d="M509.21 434.76L511.71 437.26L509.21 439.76L506.71 437.26Z" fill="#B177DE"/>
<path d="M516.30 434.99L518.80 437.49L516.30 439.99L513.80 437.49Z" fill="#B177DE"/>
<path d="M523.38 435.17L525.88 437.67L523.38 440.17L520.88 437.67Z" fill="#B177DE"/>
<path d="M530.47 435.31L532.97 437.81L530.47 440.31L527.97 437.81Z" fill="#B177DE"/>
<path d="M537.56 435.41L540.06 437.91L537.56 440.41L535.06 437.91Z" fill="#B177DE"/>
<path d="M346.22 437.71 L353.30 437.46 L360.39 437.08 L367.48 436.51 L374.56 435.63 L381.65 434.23 L388.74 431.98 L395.82 428.30 L402.48 422.63 L409.15 412.41 L416.52 396.40 L423.04 369.15 L430.97 323.86 L438.63 318.41 L445.71 360.30 L452.09 386.87 L459.60 402.53 L466.26 424.67 L473.78 431.76 L480.86 434.57 L487.95 435.91 L495.04 436.60 L502.12 436.97 L509.21 437.26 L516.30 437.49 L523.38 437.67 L530.47 437.81 L537.56 437.91" fill="none" stroke="#CC9900" stroke-width="1.2" stroke-linejoin="round"/>
<path d="M343.72 437.71L348.09 435.21L348.09 440.21Z" fill="#CC9900"/>
<path d="M350.80 437.46L355.18 434.96L355.18 439.96Z" fill="#CC9900"/>
<path d="M357.89 437.08L362.26 434.58L362.26 439.58Z" fill="#CC9900"/>
<path d="M364.98 436.51L369.35 434.01L369.35 439.01Z" fill="#CC9900"/>
<path d="M372.06 435.63L376.44 433.13L376.44 438.13Z" fill="#CC9900"/>
<path d="M379.15 434.23L383.52 431.73L383.52 436.73Z" fill="#CC9900"/>
<path d="M386.24 431.98L390.61 429.48L390.61 434.48Z" fill="#CC9900"/>
<path d="M393.32 428.30L397.70 425.80L397.70 430.80Z" fill="#CC9900"/>
<path d="M399.98 422.63L404.36 420.13L404.36 425.13Z" fill="#CC9900"/>
<path d="M406.65 412.41L411.02 409.91L411.02 414.91Z" fill="#CC9900"/>
<path d="M414.02 396.40L418.39 393.90L418.39 398.90Z" fill="#CC9900"/>
<path d="M420.54 369.15L424.91 366.65L424.91 371.65Z" fill="#CC9900"/>
<path d="M428.47 323.86L432.85 321.36L432.85 326.36Z" fill="#CC9900"/>
<path d="M436.13 318.41L440.50 315.91L440.50 320.91Z" fill="#CC9900"/>
<path d="M443.21 360.30L447.59 357.80L447.59 362.80Z" fill="#CC9900"/>
<path d="M449.59 386.87L453.97 384.37L453.97 389.37Z" fill="#CC9900"/>
<path d="M457.10 402.53L461.48 400.03L461.48 405.03Z" fill="#CC9900"/>
<path d="M463.76 424.67L468.14 422.17L468.14 427.17Z" fill="#CC9900"/>
<path d="M471.28 431.76L475.65 429.26L475.65 434.26Z" fill="#CC9900"/>
<path d="M478.36 434.57L482.74 432.07L482.74 437.07Z" fill="#CC9900"/>
<path d="M485.45 435.91L489.83 433.41L489.83 438.41Z" fill="#CC9900"/>
<path d="M492.54 436.60L496.91 434.10L496.91 439.10Z" fill="#CC9900"/>
<path d="M499.62 436.97L504.00 434.47L504.00 439.47Z" fill="#CC9900"/>
<path d="M506.71 437.26L511.09 434.76L511.09 439.76Z" fill="#CC9900"/>
<path d="M513.80 437.49L518.17 434.99L518.17 439.99Z" fill="#CC9900"/>
<path d="M520.88 437.67L525.26 435.17L525.26 440.17Z" fill="#CC9900"/>
<path d="M527.97 437.81L532.35 435.31L532.35 440.31Z" fill="#CC9900"/>
<path d="M535.06 437.91L539.43 435.41L539.43 440.41Z" fill="#CC9900"/>
</g>
<line x1="456.06" y1="269.60" x2="456.06" y2="441.70" stroke="#111" stroke-width="1.5" stroke-dasharray="4.6 4.2"/>
<rect x="328.50" y="268.00" width="212.60" height="173.70" fill="none" stroke="#1a1a1a" stroke-width="1.15"/>
<text x="322.90" y="441.56" text-anchor="end" font-size="9.61">0</text>
<text x="322.90" y="407.50" text-anchor="end" font-size="9.61">1</text>
<text x="322.90" y="373.44" text-anchor="end" font-size="9.61">2</text>
<text x="322.90" y="339.38" text-anchor="end" font-size="9.61">3</text>
<text x="322.90" y="305.33" text-anchor="end" font-size="9.61">4</text>
<text x="322.90" y="271.27" text-anchor="end" font-size="9.61">5</text>
<text x="342.67" y="455.44" text-anchor="middle" font-size="9.61">-8</text>
<text x="371.02" y="455.44" text-anchor="middle" font-size="9.61">-6</text>
<text x="399.37" y="455.44" text-anchor="middle" font-size="9.61">-4</text>
<text x="427.71" y="455.44" text-anchor="middle" font-size="9.61">-2</text>
<text x="456.06" y="455.44" text-anchor="middle" font-size="9.61">0</text>
<text x="484.41" y="455.44" text-anchor="middle" font-size="9.61">2</text>
<text x="512.75" y="455.44" text-anchor="middle" font-size="9.61">4</text>
<text x="541.10" y="455.44" text-anchor="middle" font-size="9.61">6</text>
<path d="M328.50 438.29h-3.4 M328.50 404.24h-3.4 M328.50 370.18h-3.4 M328.50 336.12h-3.4 M328.50 302.06h-3.4 M328.50 268.00h-3.4 M328.50 421.26h-2 M328.50 387.21h-2 M328.50 353.15h-2 M328.50 319.09h-2 M328.50 285.03h-2 M342.67 441.70v3.4 M371.02 441.70v3.4 M399.37 441.70v3.4 M427.71 441.70v3.4 M456.06 441.70v3.4 M484.41 441.70v3.4 M512.75 441.70v3.4 M541.10 441.70v3.4" stroke="#1a1a1a" stroke-width="1.1" fill="none"/>
<text x="363.00" y="472.40" font-size="10.50" textLength="145.0" lengthAdjust="spacingAndGlyphs">Distance from excavation face <tspan font-style="italic">x</tspan>/<tspan font-style="italic">R</tspan></text>
<text transform="translate(313.60,428.40) rotate(-90)" font-size="10.50" textLength="144.2" lengthAdjust="spacingAndGlyphs">Deformation Velocity (mm/MPa)</text>
<text x="345.00" y="282.40" font-size="10.50" textLength="36.5" lengthAdjust="spacingAndGlyphs"><tspan font-style="italic">H</tspan>=900m</text>
<line x1="473.10" y1="278.60" x2="497.10" y2="278.60" stroke="#515151" stroke-width="1.6"/>
<rect x="483.10" y="276.60" width="4.00" height="4.00" fill="#515151"/>
<text x="499.90" y="282.17" font-size="10.50"><tspan font-style="italic">BQ</tspan>150</text>
<line x1="473.10" y1="291.80" x2="497.10" y2="291.80" stroke="#F14040" stroke-width="1.2"/>
<circle cx="485.10" cy="291.80" r="2.10" fill="#F14040"/>
<text x="499.90" y="295.37" font-size="10.50"><tspan font-style="italic">BQ</tspan>170</text>
<line x1="473.10" y1="305.00" x2="497.10" y2="305.00" stroke="#1A6FDF" stroke-width="1.2"/>
<path d="M485.10 302.50L487.60 306.88L482.60 306.88Z" fill="#1A6FDF"/>
<text x="499.90" y="308.57" font-size="10.50"><tspan font-style="italic">BQ</tspan>190</text>
<line x1="473.10" y1="318.20" x2="497.10" y2="318.20" stroke="#37AD6B" stroke-width="1.2"/>
<path d="M485.10 320.70L487.60 316.33L482.60 316.33Z" fill="#37AD6B"/>
<text x="499.90" y="321.77" font-size="10.50"><tspan font-style="italic">BQ</tspan>210</text>
<line x1="473.10" y1="331.40" x2="497.10" y2="331.40" stroke="#B177DE" stroke-width="1.2"/>
<path d="M485.10 328.90L487.60 331.40L485.10 333.90L482.60 331.40Z" fill="#B177DE"/>
<text x="499.90" y="334.97" font-size="10.50"><tspan font-style="italic">BQ</tspan>230</text>
<line x1="473.10" y1="344.60" x2="497.10" y2="344.60" stroke="#CC9900" stroke-width="1.2"/>
<path d="M482.60 344.60L486.98 342.10L486.98 347.10Z" fill="#CC9900"/>
<text x="499.90" y="348.17" font-size="10.50"><tspan font-style="italic">BQ</tspan>250</text>
<text x="411.50" y="505.20" font-size="15.00" style="stroke:none">(<tspan font-weight="bold">d</tspan>)</text>
<g clip-path="url(#clipe)">
<path d="M196.44 700.66 L203.54 700.42 L210.63 700.06 L217.73 699.50 L224.83 698.61 L231.93 697.18 L239.02 694.85 L246.12 690.96 L253.22 684.48 L260.31 673.57 L267.41 655.50 L277.34 608.10 L284.87 575.03 L295.80 612.54 L302.89 638.11 L309.99 629.58 L317.51 680.05 L324.18 692.32 L331.28 696.76 L338.38 698.66 L345.47 699.57 L352.57 700.04 L359.67 700.29 L366.76 700.49 L373.86 700.65 L380.96 700.77 L388.05 700.86" fill="none" stroke="#515151" stroke-width="1.2" stroke-linejoin="round"/>
<rect x="194.44" y="698.66" width="4.00" height="4.00" fill="#515151"/>
<rect x="201.54" y="698.42" width="4.00" height="4.00" fill="#515151"/>
<rect x="208.63" y="698.06" width="4.00" height="4.00" fill="#515151"/>
<rect x="215.73" y="697.50" width="4.00" height="4.00" fill="#515151"/>
<rect x="222.83" y="696.61" width="4.00" height="4.00" fill="#515151"/>
<rect x="229.93" y="695.18" width="4.00" height="4.00" fill="#515151"/>
<rect x="237.02" y="692.85" width="4.00" height="4.00" fill="#515151"/>
<rect x="244.12" y="688.96" width="4.00" height="4.00" fill="#515151"/>
<rect x="251.22" y="682.48" width="4.00" height="4.00" fill="#515151"/>
<rect x="258.31" y="671.57" width="4.00" height="4.00" fill="#515151"/>
<rect x="265.41" y="653.50" width="4.00" height="4.00" fill="#515151"/>
<rect x="275.34" y="606.10" width="4.00" height="4.00" fill="#515151"/>
<rect x="282.87" y="573.03" width="4.00" height="4.00" fill="#515151"/>
<rect x="293.80" y="610.54" width="4.00" height="4.00" fill="#515151"/>
<rect x="300.89" y="636.11" width="4.00" height="4.00" fill="#515151"/>
<rect x="307.99" y="627.58" width="4.00" height="4.00" fill="#515151"/>
<rect x="315.51" y="678.05" width="4.00" height="4.00" fill="#515151"/>
<rect x="322.18" y="690.32" width="4.00" height="4.00" fill="#515151"/>
<rect x="329.28" y="694.76" width="4.00" height="4.00" fill="#515151"/>
<rect x="336.38" y="696.66" width="4.00" height="4.00" fill="#515151"/>
<rect x="343.47" y="697.57" width="4.00" height="4.00" fill="#515151"/>
<rect x="350.57" y="698.04" width="4.00" height="4.00" fill="#515151"/>
<rect x="357.67" y="698.29" width="4.00" height="4.00" fill="#515151"/>
<rect x="364.76" y="698.49" width="4.00" height="4.00" fill="#515151"/>
<rect x="371.86" y="698.65" width="4.00" height="4.00" fill="#515151"/>
<rect x="378.96" y="698.77" width="4.00" height="4.00" fill="#515151"/>
<rect x="386.05" y="698.86" width="4.00" height="4.00" fill="#515151"/>
<path d="M196.44 700.39 L203.54 700.04 L210.63 699.49 L217.73 698.65 L224.83 697.32 L231.93 695.18 L239.02 691.68 L246.12 685.85 L253.22 675.62 L260.31 658.57 L267.41 632.99 L273.80 588.67 L280.32 577.41 L287.99 609.13 L295.23 634.70 L302.89 655.16 L309.99 645.27 L317.51 683.46 L324.18 692.67 L331.28 696.93 L338.38 698.76 L345.47 699.64 L352.57 700.09 L359.67 700.33 L366.76 700.52 L373.86 700.67 L380.96 700.78 L388.05 700.87" fill="none" stroke="#F14040" stroke-width="1.2" stroke-linejoin="round"/>
<circle cx="196.44" cy="700.39" r="2.10" fill="#F14040"/>
<circle cx="203.54" cy="700.04" r="2.10" fill="#F14040"/>
<circle cx="210.63" cy="699.49" r="2.10" fill="#F14040"/>
<circle cx="217.73" cy="698.65" r="2.10" fill="#F14040"/>
<circle cx="224.83" cy="697.32" r="2.10" fill="#F14040"/>
<circle cx="231.93" cy="695.18" r="2.10" fill="#F14040"/>
<circle cx="239.02" cy="691.68" r="2.10" fill="#F14040"/>
<circle cx="246.12" cy="685.85" r="2.10" fill="#F14040"/>
<circle cx="253.22" cy="675.62" r="2.10" fill="#F14040"/>
<circle cx="260.31" cy="658.57" r="2.10" fill="#F14040"/>
<circle cx="267.41" cy="632.99" r="2.10" fill="#F14040"/>
<circle cx="273.80" cy="588.67" r="2.10" fill="#F14040"/>
<circle cx="280.32" cy="577.41" r="2.10" fill="#F14040"/>
<circle cx="287.99" cy="609.13" r="2.10" fill="#F14040"/>
<circle cx="295.23" cy="634.70" r="2.10" fill="#F14040"/>
<circle cx="302.89" cy="655.16" r="2.10" fill="#F14040"/>
<circle cx="309.99" cy="645.27" r="2.10" fill="#F14040"/>
<circle cx="317.51" cy="683.46" r="2.10" fill="#F14040"/>
<circle cx="324.18" cy="692.67" r="2.10" fill="#F14040"/>
<circle cx="331.28" cy="696.93" r="2.10" fill="#F14040"/>
<circle cx="338.38" cy="698.76" r="2.10" fill="#F14040"/>
<circle cx="345.47" cy="699.64" r="2.10" fill="#F14040"/>
<circle cx="352.57" cy="700.09" r="2.10" fill="#F14040"/>
<circle cx="359.67" cy="700.33" r="2.10" fill="#F14040"/>
<circle cx="366.76" cy="700.52" r="2.10" fill="#F14040"/>
<circle cx="373.86" cy="700.67" r="2.10" fill="#F14040"/>
<circle cx="380.96" cy="700.78" r="2.10" fill="#F14040"/>
<circle cx="388.05" cy="700.87" r="2.10" fill="#F14040"/>
<path d="M196.44 700.25 L203.54 699.83 L210.63 699.19 L217.73 698.20 L224.83 696.63 L231.93 694.11 L239.02 689.99 L246.40 682.78 L252.65 670.84 L259.03 652.77 L266.41 620.72 L273.65 573.66 L281.60 572.64 L288.13 610.83 L295.80 637.43 L302.32 656.18 L309.99 661.98 L317.51 686.19 L324.18 693.01 L331.28 697.10 L338.38 698.86 L345.47 699.70 L352.57 700.13 L359.67 700.36 L366.76 700.55 L373.86 700.69 L380.96 700.80 L388.05 700.88" fill="none" stroke="#1A6FDF" stroke-width="1.2" stroke-linejoin="round"/>
<path d="M196.44 697.75L198.94 702.13L193.94 702.13Z" fill="#1A6FDF"/>
<path d="M203.54 697.33L206.04 701.71L201.04 701.71Z" fill="#1A6FDF"/>
<path d="M210.63 696.69L213.13 701.07L208.13 701.07Z" fill="#1A6FDF"/>
<path d="M217.73 695.70L220.23 700.07L215.23 700.07Z" fill="#1A6FDF"/>
<path d="M224.83 694.13L227.33 698.51L222.33 698.51Z" fill="#1A6FDF"/>
<path d="M231.93 691.61L234.43 695.99L229.43 695.99Z" fill="#1A6FDF"/>
<path d="M239.02 687.49L241.52 691.87L236.52 691.87Z" fill="#1A6FDF"/>
<path d="M246.40 680.28L248.90 684.65L243.90 684.65Z" fill="#1A6FDF"/>
<path d="M252.65 668.34L255.15 672.72L250.15 672.72Z" fill="#1A6FDF"/>
<path d="M259.03 650.27L261.53 654.65L256.53 654.65Z" fill="#1A6FDF"/>
<path d="M266.41 618.22L268.91 622.59L263.91 622.59Z" fill="#1A6FDF"/>
<path d="M273.65 571.16L276.15 575.54L271.15 575.54Z" fill="#1A6FDF"/>
<path d="M281.60 570.14L284.10 574.52L279.10 574.52Z" fill="#1A6FDF"/>
<path d="M288.13 608.33L290.63 612.71L285.63 612.71Z" fill="#1A6FDF"/>
<path d="M295.80 634.93L298.30 639.30L293.30 639.30Z" fill="#1A6FDF"/>
<path d="M302.32 653.68L304.82 658.06L299.82 658.06Z" fill="#1A6FDF"/>
<path d="M309.99 659.48L312.49 663.85L307.49 663.85Z" fill="#1A6FDF"/>
<path d="M317.51 683.69L320.01 688.06L315.01 688.06Z" fill="#1A6FDF"/>
<path d="M324.18 690.51L326.68 694.88L321.68 694.88Z" fill="#1A6FDF"/>
<path d="M331.28 694.60L333.78 698.97L328.78 698.97Z" fill="#1A6FDF"/>
<path d="M338.38 696.36L340.88 700.73L335.88 700.73Z" fill="#1A6FDF"/>
<path d="M345.47 697.20L347.97 701.57L342.97 701.57Z" fill="#1A6FDF"/>
<path d="M352.57 697.63L355.07 702.01L350.07 702.01Z" fill="#1A6FDF"/>
<path d="M359.67 697.86L362.17 702.24L357.17 702.24Z" fill="#1A6FDF"/>
<path d="M366.76 698.05L369.26 702.42L364.26 702.42Z" fill="#1A6FDF"/>
<path d="M373.86 698.19L376.36 702.56L371.36 702.56Z" fill="#1A6FDF"/>
<path d="M380.96 698.30L383.46 702.67L378.46 702.67Z" fill="#1A6FDF"/>
<path d="M388.05 698.38L390.55 702.76L385.55 702.76Z" fill="#1A6FDF"/>
<path d="M196.44 700.30 L203.54 699.91 L210.63 699.30 L217.73 698.37 L224.83 696.89 L231.93 694.51 L239.02 690.62 L246.12 684.14 L253.22 673.23 L260.31 655.16 L267.41 626.17 L274.50 573.66 L282.31 564.12 L288.70 601.96 L296.50 634.36 L302.89 653.45 L309.99 663.68 L317.51 686.19 L324.18 693.01 L331.28 697.10 L338.38 698.86 L345.47 699.70 L352.57 700.13 L359.67 700.36 L366.76 700.55 L373.86 700.69 L380.96 700.80 L388.05 700.88" fill="none" stroke="#37AD6B" stroke-width="1.2" stroke-linejoin="round"/>
<path d="M196.44 702.80L198.94 698.43L193.94 698.43Z" fill="#37AD6B"/>
<path d="M203.54 702.41L206.04 698.03L201.04 698.03Z" fill="#37AD6B"/>
<path d="M210.63 701.80L213.13 697.43L208.13 697.43Z" fill="#37AD6B"/>
<path d="M217.73 700.87L220.23 696.49L215.23 696.49Z" fill="#37AD6B"/>
<path d="M224.83 699.39L227.33 695.01L222.33 695.01Z" fill="#37AD6B"/>
<path d="M231.93 697.01L234.43 692.63L229.43 692.63Z" fill="#37AD6B"/>
<path d="M239.02 693.12L241.52 688.74L236.52 688.74Z" fill="#37AD6B"/>
<path d="M246.12 686.64L248.62 682.27L243.62 682.27Z" fill="#37AD6B"/>
<path d="M253.22 675.73L255.72 671.35L250.72 671.35Z" fill="#37AD6B"/>
<path d="M260.31 657.66L262.81 653.28L257.81 653.28Z" fill="#37AD6B"/>
<path d="M267.41 628.67L269.91 624.30L264.91 624.30Z" fill="#37AD6B"/>
<path d="M274.50 576.16L277.00 571.79L272.00 571.79Z" fill="#37AD6B"/>
<path d="M282.31 566.62L284.81 562.24L279.81 562.24Z" fill="#37AD6B"/>
<path d="M288.70 604.46L291.20 600.09L286.20 600.09Z" fill="#37AD6B"/>
<path d="M296.50 636.86L299.00 632.48L294.00 632.48Z" fill="#37AD6B"/>
<path d="M302.89 655.95L305.39 651.58L300.39 651.58Z" fill="#37AD6B"/>
<path d="M309.99 666.18L312.49 661.81L307.49 661.81Z" fill="#37AD6B"/>
<path d="M317.51 688.69L320.01 684.31L315.01 684.31Z" fill="#37AD6B"/>
<path d="M324.18 695.51L326.68 691.13L321.68 691.13Z" fill="#37AD6B"/>
<path d="M331.28 699.60L333.78 695.22L328.78 695.22Z" fill="#37AD6B"/>
<path d="M338.38 701.36L340.88 696.98L335.88 696.98Z" fill="#37AD6B"/>
<path d="M345.47 702.20L347.97 697.82L342.97 697.82Z" fill="#37AD6B"/>
<path d="M352.57 702.63L355.07 698.26L350.07 698.26Z" fill="#37AD6B"/>
<path d="M359.67 702.86L362.17 698.49L357.17 698.49Z" fill="#37AD6B"/>
<path d="M366.76 703.05L369.26 698.67L364.26 698.67Z" fill="#37AD6B"/>
<path d="M373.86 703.19L376.36 698.81L371.36 698.81Z" fill="#37AD6B"/>
<path d="M380.96 703.30L383.46 698.92L378.46 698.92Z" fill="#37AD6B"/>
<path d="M388.05 703.38L390.55 699.01L385.55 699.01Z" fill="#37AD6B"/>
<path d="M196.44 700.39 L203.54 700.04 L210.63 699.49 L217.73 698.65 L224.83 697.32 L231.93 695.18 L239.02 691.68 L246.12 685.85 L253.22 675.62 L260.31 659.59 L267.41 632.99 L275.78 577.76 L283.02 551.50 L288.70 587.64 L295.80 625.83 L302.89 651.75 L309.99 663.68 L317.51 686.19 L324.18 693.01 L331.28 697.10 L338.38 698.86 L345.47 699.70 L352.57 700.13 L359.67 700.36 L366.76 700.55 L373.86 700.69 L380.96 700.80 L388.05 700.88" fill="none" stroke="#B177DE" stroke-width="1.2" stroke-linejoin="round"/>
<path d="M196.44 697.89L198.94 700.39L196.44 702.89L193.94 700.39Z" fill="#B177DE"/>
<path d="M203.54 697.54L206.04 700.04L203.54 702.54L201.04 700.04Z" fill="#B177DE"/>
<path d="M210.63 696.99L213.13 699.49L210.63 701.99L208.13 699.49Z" fill="#B177DE"/>
<path d="M217.73 696.15L220.23 698.65L217.73 701.15L215.23 698.65Z" fill="#B177DE"/>
<path d="M224.83 694.82L227.33 697.32L224.83 699.82L222.33 697.32Z" fill="#B177DE"/>
<path d="M231.93 692.68L234.43 695.18L231.93 697.68L229.43 695.18Z" fill="#B177DE"/>
<path d="M239.02 689.18L241.52 691.68L239.02 694.18L236.52 691.68Z" fill="#B177DE"/>
<path d="M246.12 683.35L248.62 685.85L246.12 688.35L243.62 685.85Z" fill="#B177DE"/>
<path d="M253.22 673.12L255.72 675.62L253.22 678.12L250.72 675.62Z" fill="#B177DE"/>
<path d="M260.31 657.09L262.81 659.59L260.31 662.09L257.81 659.59Z" fill="#B177DE"/>
<path d="M267.41 630.49L269.91 632.99L267.41 635.49L264.91 632.99Z" fill="#B177DE"/>
<path d="M275.78 575.26L278.28 577.76L275.78 580.26L273.28 577.76Z" fill="#B177DE"/>
<path d="M283.02 549.00L285.52 551.50L283.02 554.00L280.52 551.50Z" fill="#B177DE"/>
<path d="M288.70 585.14L291.20 587.64L288.70 590.14L286.20 587.64Z" fill="#B177DE"/>
<path d="M295.80 623.33L298.30 625.83L295.80 628.33L293.30 625.83Z" fill="#B177DE"/>
<path d="M302.89 649.25L305.39 651.75L302.89 654.25L300.39 651.75Z" fill="#B177DE"/>
<path d="M309.99 661.18L312.49 663.68L309.99 666.18L307.49 663.68Z" fill="#B177DE"/>
<path d="M317.51 683.69L320.01 686.19L317.51 688.69L315.01 686.19Z" fill="#B177DE"/>
<path d="M324.18 690.51L326.68 693.01L324.18 695.51L321.68 693.01Z" fill="#B177DE"/>
<path d="M331.28 694.60L333.78 697.10L331.28 699.60L328.78 697.10Z" fill="#B177DE"/>
<path d="M338.38 696.36L340.88 698.86L338.38 701.36L335.88 698.86Z" fill="#B177DE"/>
<path d="M345.47 697.20L347.97 699.70L345.47 702.20L342.97 699.70Z" fill="#B177DE"/>
<path d="M352.57 697.63L355.07 700.13L352.57 702.63L350.07 700.13Z" fill="#B177DE"/>
<path d="M359.67 697.86L362.17 700.36L359.67 702.86L357.17 700.36Z" fill="#B177DE"/>
<path d="M366.76 698.05L369.26 700.55L366.76 703.05L364.26 700.55Z" fill="#B177DE"/>
<path d="M373.86 698.19L376.36 700.69L373.86 703.19L371.36 700.69Z" fill="#B177DE"/>
<path d="M380.96 698.30L383.46 700.80L380.96 703.30L378.46 700.80Z" fill="#B177DE"/>
<path d="M388.05 698.38L390.55 700.88L388.05 703.38L385.55 700.88Z" fill="#B177DE"/>
<path d="M196.44 700.48 L203.54 700.16 L210.63 699.68 L217.73 698.93 L224.83 697.75 L231.93 695.85 L239.02 692.73 L246.12 687.55 L252.65 679.37 L259.03 665.39 L266.41 643.56 L277.20 581.85 L283.73 539.91 L288.84 569.23 L295.51 616.29 L302.89 645.95 L309.99 662.66 L317.51 686.19 L324.18 693.01 L331.28 697.10 L338.38 698.86 L345.47 699.70 L352.57 700.13 L359.67 700.36 L366.76 700.55 L373.86 700.69 L380.96 700.80 L388.05 700.88" fill="none" stroke="#CC9900" stroke-width="1.2" stroke-linejoin="round"/>
<path d="M193.94 700.48L198.32 697.98L198.32 702.98Z" fill="#CC9900"/>
<path d="M201.04 700.16L205.41 697.66L205.41 702.66Z" fill="#CC9900"/>
<path d="M208.13 699.68L212.51 697.18L212.51 702.18Z" fill="#CC9900"/>
<path d="M215.23 698.93L219.61 696.43L219.61 701.43Z" fill="#CC9900"/>
<path d="M222.33 697.75L226.70 695.25L226.70 700.25Z" fill="#CC9900"/>
<path d="M229.43 695.85L233.80 693.35L233.80 698.35Z" fill="#CC9900"/>
<path d="M236.52 692.73L240.90 690.23L240.90 695.23Z" fill="#CC9900"/>
<path d="M243.62 687.55L247.99 685.05L247.99 690.05Z" fill="#CC9900"/>
<path d="M250.15 679.37L254.52 676.87L254.52 681.87Z" fill="#CC9900"/>
<path d="M256.53 665.39L260.91 662.89L260.91 667.89Z" fill="#CC9900"/>
<path d="M263.91 643.56L268.29 641.06L268.29 646.06Z" fill="#CC9900"/>
<path d="M274.70 581.85L279.08 579.35L279.08 584.35Z" fill="#CC9900"/>
<path d="M281.23 539.91L285.61 537.41L285.61 542.41Z" fill="#CC9900"/>
<path d="M286.34 569.23L290.72 566.73L290.72 571.73Z" fill="#CC9900"/>
<path d="M293.01 616.29L297.39 613.79L297.39 618.79Z" fill="#CC9900"/>
<path d="M300.39 645.95L304.77 643.45L304.77 648.45Z" fill="#CC9900"/>
<path d="M307.49 662.66L311.86 660.16L311.86 665.16Z" fill="#CC9900"/>
<path d="M315.01 686.19L319.39 683.69L319.39 688.69Z" fill="#CC9900"/>
<path d="M321.68 693.01L326.06 690.51L326.06 695.51Z" fill="#CC9900"/>
<path d="M328.78 697.10L333.15 694.60L333.15 699.60Z" fill="#CC9900"/>
<path d="M335.88 698.86L340.25 696.36L340.25 701.36Z" fill="#CC9900"/>
<path d="M342.97 699.70L347.35 697.20L347.35 702.20Z" fill="#CC9900"/>
<path d="M350.07 700.13L354.44 697.63L354.44 702.63Z" fill="#CC9900"/>
<path d="M357.17 700.36L361.54 697.86L361.54 702.86Z" fill="#CC9900"/>
<path d="M364.26 700.55L368.64 698.05L368.64 703.05Z" fill="#CC9900"/>
<path d="M371.36 700.69L375.73 698.19L375.73 703.19Z" fill="#CC9900"/>
<path d="M378.46 700.80L382.83 698.30L382.83 703.30Z" fill="#CC9900"/>
<path d="M385.55 700.88L389.93 698.38L389.93 703.38Z" fill="#CC9900"/>
</g>
<line x1="306.44" y1="532.30" x2="306.44" y2="704.60" stroke="#111" stroke-width="1.5" stroke-dasharray="4.6 4.2"/>
<rect x="178.70" y="530.70" width="212.90" height="173.90" fill="none" stroke="#1a1a1a" stroke-width="1.15"/>
<text x="173.10" y="704.46" text-anchor="end" font-size="9.61">0</text>
<text x="173.10" y="670.36" text-anchor="end" font-size="9.61">1</text>
<text x="173.10" y="636.26" text-anchor="end" font-size="9.61">2</text>
<text x="173.10" y="602.16" text-anchor="end" font-size="9.61">3</text>
<text x="173.10" y="568.06" text-anchor="end" font-size="9.61">4</text>
<text x="173.10" y="533.97" text-anchor="end" font-size="9.61">5</text>
<text x="192.89" y="718.34" text-anchor="middle" font-size="9.61">-8</text>
<text x="221.28" y="718.34" text-anchor="middle" font-size="9.61">-6</text>
<text x="249.67" y="718.34" text-anchor="middle" font-size="9.61">-4</text>
<text x="278.05" y="718.34" text-anchor="middle" font-size="9.61">-2</text>
<text x="306.44" y="718.34" text-anchor="middle" font-size="9.61">0</text>
<text x="334.83" y="718.34" text-anchor="middle" font-size="9.61">2</text>
<text x="363.21" y="718.34" text-anchor="middle" font-size="9.61">4</text>
<text x="391.60" y="718.34" text-anchor="middle" font-size="9.61">6</text>
<path d="M178.70 701.19h-3.4 M178.70 667.09h-3.4 M178.70 632.99h-3.4 M178.70 598.90h-3.4 M178.70 564.80h-3.4 M178.70 530.70h-3.4 M178.70 684.14h-2 M178.70 650.04h-2 M178.70 615.95h-2 M178.70 581.85h-2 M178.70 547.75h-2 M192.89 704.60v3.4 M221.28 704.60v3.4 M249.67 704.60v3.4 M278.05 704.60v3.4 M306.44 704.60v3.4 M334.83 704.60v3.4 M363.21 704.60v3.4 M391.60 704.60v3.4" stroke="#1a1a1a" stroke-width="1.1" fill="none"/>
<text x="213.40" y="734.50" font-size="10.50" textLength="144.6" lengthAdjust="spacingAndGlyphs">Distance from excavation face <tspan font-style="italic">x</tspan>/<tspan font-style="italic">R</tspan></text>
<text transform="translate(163.90,690.80) rotate(-90)" font-size="10.50" textLength="143.8" lengthAdjust="spacingAndGlyphs">Deformation Velocity (mm/MPa)</text>
<text x="195.80" y="545.00" font-size="10.50" textLength="41.6" lengthAdjust="spacingAndGlyphs"><tspan font-style="italic">H</tspan>=1100m</text>
<line x1="323.60" y1="541.30" x2="347.60" y2="541.30" stroke="#515151" stroke-width="1.6"/>
<rect x="333.60" y="539.30" width="4.00" height="4.00" fill="#515151"/>
<text x="350.50" y="544.87" font-size="10.50"><tspan font-style="italic">BQ</tspan>150</text>
<line x1="323.60" y1="554.60" x2="347.60" y2="554.60" stroke="#F14040" stroke-width="1.2"/>
<circle cx="335.60" cy="554.60" r="2.10" fill="#F14040"/>
<text x="350.50" y="558.17" font-size="10.50"><tspan font-style="italic">BQ</tspan>170</text>
<line x1="323.60" y1="567.90" x2="347.60" y2="567.90" stroke="#1A6FDF" stroke-width="1.2"/>
<path d="M335.60 565.40L338.10 569.77L333.10 569.77Z" fill="#1A6FDF"/>
<text x="350.50" y="571.47" font-size="10.50"><tspan font-style="italic">BQ</tspan>190</text>
<line x1="323.60" y1="581.20" x2="347.60" y2="581.20" stroke="#37AD6B" stroke-width="1.2"/>
<path d="M335.60 583.70L338.10 579.32L333.10 579.32Z" fill="#37AD6B"/>
<text x="350.50" y="584.77" font-size="10.50"><tspan font-style="italic">BQ</tspan>210</text>
<line x1="323.60" y1="594.50" x2="347.60" y2="594.50" stroke="#B177DE" stroke-width="1.2"/>
<path d="M335.60 592.00L338.10 594.50L335.60 597.00L333.10 594.50Z" fill="#B177DE"/>
<text x="350.50" y="598.07" font-size="10.50"><tspan font-style="italic">BQ</tspan>230</text>
<line x1="323.60" y1="607.80" x2="347.60" y2="607.80" stroke="#CC9900" stroke-width="1.2"/>
<path d="M333.10 607.80L337.48 605.30L337.48 610.30Z" fill="#CC9900"/>
<text x="350.50" y="611.37" font-size="10.50"><tspan font-style="italic">BQ</tspan>250</text>
<text x="263.10" y="768.30" font-size="15.00" style="stroke:none">(<tspan font-weight="bold">e</tspan>)</text>
</svg>
</body></html>
